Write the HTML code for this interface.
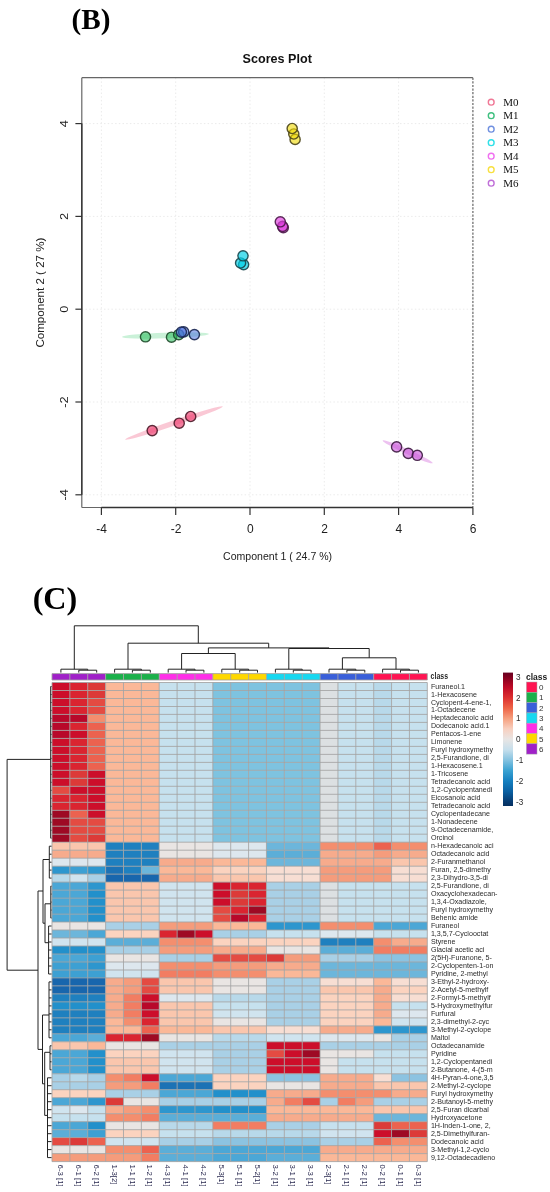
<!DOCTYPE html>
<html><head><meta charset="utf-8"><title>Scores Plot and Heatmap</title>
<style>html,body{margin:0;padding:0;background:#fff;} svg{display:block;}</style></head>
<body><svg width="550" height="1192" viewBox="0 0 550 1192">
<rect width="550" height="1192" fill="#fff"/>
<text x="90.9" y="28.6" font-family="Liberation Serif, serif" font-weight="bold" font-size="29.2" text-anchor="middle" fill="#000">(B)</text>
<text x="0" y="0" transform="translate(277.2 62.6) scale(1 1.07)" font-family="Liberation Sans, sans-serif" font-weight="bold" font-size="12.6" text-anchor="middle" fill="#111">Scores Plot</text>
<line x1="101.4" y1="77.7" x2="101.4" y2="507.5" stroke="#ebebeb" stroke-width="1" stroke-dasharray="1.5,2.2"/>
<line x1="175.7" y1="77.7" x2="175.7" y2="507.5" stroke="#ebebeb" stroke-width="1" stroke-dasharray="1.5,2.2"/>
<line x1="250.0" y1="77.7" x2="250.0" y2="507.5" stroke="#ebebeb" stroke-width="1" stroke-dasharray="1.5,2.2"/>
<line x1="324.3" y1="77.7" x2="324.3" y2="507.5" stroke="#ebebeb" stroke-width="1" stroke-dasharray="1.5,2.2"/>
<line x1="398.6" y1="77.7" x2="398.6" y2="507.5" stroke="#ebebeb" stroke-width="1" stroke-dasharray="1.5,2.2"/>
<line x1="472.9" y1="77.7" x2="472.9" y2="507.5" stroke="#ebebeb" stroke-width="1" stroke-dasharray="1.5,2.2"/>
<line x1="81.8" y1="494.8" x2="472.9" y2="494.8" stroke="#ebebeb" stroke-width="1" stroke-dasharray="1.5,2.2"/>
<line x1="81.8" y1="402.0" x2="472.9" y2="402.0" stroke="#ebebeb" stroke-width="1" stroke-dasharray="1.5,2.2"/>
<line x1="81.8" y1="309.2" x2="472.9" y2="309.2" stroke="#ebebeb" stroke-width="1" stroke-dasharray="1.5,2.2"/>
<line x1="81.8" y1="216.4" x2="472.9" y2="216.4" stroke="#ebebeb" stroke-width="1" stroke-dasharray="1.5,2.2"/>
<line x1="81.8" y1="123.6" x2="472.9" y2="123.6" stroke="#ebebeb" stroke-width="1" stroke-dasharray="1.5,2.2"/>
<ellipse cx="165.5" cy="335.5" rx="43.5" ry="2.8" transform="rotate(-2.0 165.5 335.5)" fill="#c4f0d4" fill-opacity="0.9"/>
<ellipse cx="174.0" cy="423.0" rx="51.5" ry="2.7" transform="rotate(-18.8 174.0 423.0)" fill="#f9c2d0" fill-opacity="0.9"/>
<ellipse cx="407.7" cy="451.8" rx="27.5" ry="2.4" transform="rotate(24.4 407.7 451.8)" fill="#ebbbee" fill-opacity="0.9"/>
<circle cx="295.1" cy="139.4" r="5.1" fill="#f0d800" fill-opacity="0.6" stroke="#4a4418" stroke-opacity="0.9" stroke-width="1.4"/>
<circle cx="293.8" cy="134.0" r="5.1" fill="#f0d800" fill-opacity="0.6" stroke="#4a4418" stroke-opacity="0.9" stroke-width="1.4"/>
<circle cx="292.2" cy="128.5" r="5.1" fill="#f0d800" fill-opacity="0.6" stroke="#4a4418" stroke-opacity="0.9" stroke-width="1.4"/>
<circle cx="283.3" cy="227.6" r="5.1" fill="#e040e0" fill-opacity="0.68" stroke="#4a1a48" stroke-opacity="0.9" stroke-width="1.4"/>
<circle cx="282.6" cy="226.4" r="5.1" fill="#e040e0" fill-opacity="0.68" stroke="#4a1a48" stroke-opacity="0.9" stroke-width="1.4"/>
<circle cx="280.3" cy="221.8" r="5.1" fill="#e040e0" fill-opacity="0.68" stroke="#4a1a48" stroke-opacity="0.9" stroke-width="1.4"/>
<circle cx="243.6" cy="264.6" r="5.1" fill="#00d0e8" fill-opacity="0.68" stroke="#17464c" stroke-opacity="0.9" stroke-width="1.4"/>
<circle cx="240.6" cy="263.0" r="5.1" fill="#00d0e8" fill-opacity="0.68" stroke="#17464c" stroke-opacity="0.9" stroke-width="1.4"/>
<circle cx="243.0" cy="255.8" r="5.1" fill="#00d0e8" fill-opacity="0.68" stroke="#17464c" stroke-opacity="0.9" stroke-width="1.4"/>
<circle cx="145.5" cy="336.8" r="5.1" fill="#30c060" fill-opacity="0.6" stroke="#1e4a2a" stroke-opacity="0.9" stroke-width="1.4"/>
<circle cx="171.5" cy="337.2" r="5.1" fill="#30c060" fill-opacity="0.6" stroke="#1e4a2a" stroke-opacity="0.9" stroke-width="1.4"/>
<circle cx="178.7" cy="334.7" r="5.1" fill="#30c060" fill-opacity="0.6" stroke="#1e4a2a" stroke-opacity="0.9" stroke-width="1.4"/>
<circle cx="194.4" cy="334.6" r="5.1" fill="#4870e0" fill-opacity="0.55" stroke="#1a2650" stroke-opacity="0.9" stroke-width="1.4"/>
<circle cx="183.7" cy="331.9" r="5.1" fill="#4870e0" fill-opacity="0.55" stroke="#1a2650" stroke-opacity="0.9" stroke-width="1.4"/>
<circle cx="181.4" cy="332.1" r="5.1" fill="#4870e0" fill-opacity="0.55" stroke="#1a2650" stroke-opacity="0.9" stroke-width="1.4"/>
<circle cx="152.2" cy="430.6" r="5.1" fill="#ee4070" fill-opacity="0.68" stroke="#4a1a28" stroke-opacity="0.9" stroke-width="1.4"/>
<circle cx="179.2" cy="423.2" r="5.1" fill="#ee4070" fill-opacity="0.68" stroke="#4a1a28" stroke-opacity="0.9" stroke-width="1.4"/>
<circle cx="190.7" cy="416.5" r="5.1" fill="#ee4070" fill-opacity="0.68" stroke="#4a1a28" stroke-opacity="0.9" stroke-width="1.4"/>
<circle cx="396.6" cy="446.9" r="5.1" fill="#c850d8" fill-opacity="0.6" stroke="#3c1a40" stroke-opacity="0.9" stroke-width="1.4"/>
<circle cx="408.3" cy="453.4" r="5.1" fill="#c850d8" fill-opacity="0.6" stroke="#3c1a40" stroke-opacity="0.9" stroke-width="1.4"/>
<circle cx="417.3" cy="455.3" r="5.1" fill="#c850d8" fill-opacity="0.6" stroke="#3c1a40" stroke-opacity="0.9" stroke-width="1.4"/>
<line x1="81.8" y1="77.7" x2="472.9" y2="77.7" stroke="#666" stroke-width="1.2"/>
<line x1="472.9" y1="77.7" x2="472.9" y2="507.5" stroke="#6a6a6a" stroke-width="1.2" stroke-dasharray="2.2,1.4"/>
<line x1="81.8" y1="77.7" x2="81.8" y2="507.5" stroke="#666" stroke-width="1.2"/>
<line x1="81.8" y1="507.5" x2="472.9" y2="507.5" stroke="#666" stroke-width="1.2"/>
<line x1="81.8" y1="123.6" x2="81.8" y2="494.8" stroke="#333" stroke-width="1.4"/>
<line x1="101.4" y1="507.5" x2="472.9" y2="507.5" stroke="#333" stroke-width="1.4"/>
<line x1="75.4" y1="494.8" x2="81.8" y2="494.8" stroke="#333" stroke-width="1.2"/>
<text x="0" y="0" transform="translate(68.1 494.8) scale(1 1.1) rotate(-90)" font-family="Liberation Sans, sans-serif" font-size="11.6" text-anchor="middle" fill="#1e1e1e">-4</text>
<line x1="75.4" y1="402.0" x2="81.8" y2="402.0" stroke="#333" stroke-width="1.2"/>
<text x="0" y="0" transform="translate(68.1 402.0) scale(1 1.1) rotate(-90)" font-family="Liberation Sans, sans-serif" font-size="11.6" text-anchor="middle" fill="#1e1e1e">-2</text>
<line x1="75.4" y1="309.2" x2="81.8" y2="309.2" stroke="#333" stroke-width="1.2"/>
<text x="0" y="0" transform="translate(68.1 309.2) scale(1 1.1) rotate(-90)" font-family="Liberation Sans, sans-serif" font-size="11.6" text-anchor="middle" fill="#1e1e1e">0</text>
<line x1="75.4" y1="216.4" x2="81.8" y2="216.4" stroke="#333" stroke-width="1.2"/>
<text x="0" y="0" transform="translate(68.1 216.4) scale(1 1.1) rotate(-90)" font-family="Liberation Sans, sans-serif" font-size="11.6" text-anchor="middle" fill="#1e1e1e">2</text>
<line x1="75.4" y1="123.6" x2="81.8" y2="123.6" stroke="#333" stroke-width="1.2"/>
<text x="0" y="0" transform="translate(68.1 123.6) scale(1 1.1) rotate(-90)" font-family="Liberation Sans, sans-serif" font-size="11.6" text-anchor="middle" fill="#1e1e1e">4</text>
<line x1="101.4" y1="507.5" x2="101.4" y2="514.9" stroke="#333" stroke-width="1.2"/>
<text x="0" y="0" transform="translate(101.7 532.8) scale(1 1.04)" font-family="Liberation Sans, sans-serif" font-size="12" text-anchor="middle" fill="#1e1e1e">-4</text>
<line x1="175.7" y1="507.5" x2="175.7" y2="514.9" stroke="#333" stroke-width="1.2"/>
<text x="0" y="0" transform="translate(176.0 532.8) scale(1 1.04)" font-family="Liberation Sans, sans-serif" font-size="12" text-anchor="middle" fill="#1e1e1e">-2</text>
<line x1="250.0" y1="507.5" x2="250.0" y2="514.9" stroke="#333" stroke-width="1.2"/>
<text x="0" y="0" transform="translate(250.3 532.8) scale(1 1.04)" font-family="Liberation Sans, sans-serif" font-size="12" text-anchor="middle" fill="#1e1e1e">0</text>
<line x1="324.3" y1="507.5" x2="324.3" y2="514.9" stroke="#333" stroke-width="1.2"/>
<text x="0" y="0" transform="translate(324.6 532.8) scale(1 1.04)" font-family="Liberation Sans, sans-serif" font-size="12" text-anchor="middle" fill="#1e1e1e">2</text>
<line x1="398.6" y1="507.5" x2="398.6" y2="514.9" stroke="#333" stroke-width="1.2"/>
<text x="0" y="0" transform="translate(398.9 532.8) scale(1 1.04)" font-family="Liberation Sans, sans-serif" font-size="12" text-anchor="middle" fill="#1e1e1e">4</text>
<line x1="472.9" y1="507.5" x2="472.9" y2="514.9" stroke="#333" stroke-width="1.2"/>
<text x="0" y="0" transform="translate(473.2 532.8) scale(1 1.04)" font-family="Liberation Sans, sans-serif" font-size="12" text-anchor="middle" fill="#1e1e1e">6</text>
<text x="277.6" y="560.3" font-family="Liberation Sans, sans-serif" font-size="11.3" text-anchor="middle" textLength="109" lengthAdjust="spacingAndGlyphs" fill="#222">Component 1 ( 24.7 %)</text>
<text x="0" y="0" transform="translate(44.3 292.6) rotate(-90)" font-family="Liberation Sans, sans-serif" font-size="11.3" text-anchor="middle" textLength="110" lengthAdjust="spacingAndGlyphs" fill="#222">Component 2 ( 27 %)</text>
<circle cx="491.2" cy="102.2" r="2.9" fill="none" stroke="#f07896" stroke-width="1.4"/>
<text x="503.2" y="105.9" font-family="Liberation Serif, serif" font-size="11" fill="#111">M0</text>
<circle cx="491.2" cy="115.7" r="2.9" fill="none" stroke="#40c080" stroke-width="1.4"/>
<text x="503.2" y="119.4" font-family="Liberation Serif, serif" font-size="11" fill="#111">M1</text>
<circle cx="491.2" cy="129.2" r="2.9" fill="none" stroke="#7090e0" stroke-width="1.4"/>
<text x="503.2" y="132.9" font-family="Liberation Serif, serif" font-size="11" fill="#111">M2</text>
<circle cx="491.2" cy="142.7" r="2.9" fill="none" stroke="#30e0e8" stroke-width="1.4"/>
<text x="503.2" y="146.4" font-family="Liberation Serif, serif" font-size="11" fill="#111">M3</text>
<circle cx="491.2" cy="156.2" r="2.9" fill="none" stroke="#f070f0" stroke-width="1.4"/>
<text x="503.2" y="159.9" font-family="Liberation Serif, serif" font-size="11" fill="#111">M4</text>
<circle cx="491.2" cy="169.7" r="2.9" fill="none" stroke="#f8e040" stroke-width="1.4"/>
<text x="503.2" y="173.4" font-family="Liberation Serif, serif" font-size="11" fill="#111">M5</text>
<circle cx="491.2" cy="183.2" r="2.9" fill="none" stroke="#c070d8" stroke-width="1.4"/>
<text x="503.2" y="186.9" font-family="Liberation Serif, serif" font-size="11" fill="#111">M6</text>
<text x="55" y="609.1" font-family="Liberation Serif, serif" font-weight="bold" font-size="32.2" text-anchor="middle" fill="#000">(C)</text>
<rect x="52.00" y="682.5" width="17.87" height="7.985" fill="#cc0e2a"/>
<rect x="69.87" y="682.5" width="17.87" height="7.985" fill="#da2430"/>
<rect x="87.74" y="682.5" width="17.87" height="7.985" fill="#dc3a38"/>
<rect x="105.61" y="682.5" width="17.87" height="7.985" fill="#fbb898"/>
<rect x="123.49" y="682.5" width="17.87" height="7.985" fill="#fbb898"/>
<rect x="141.36" y="682.5" width="17.87" height="7.985" fill="#fbb898"/>
<rect x="159.23" y="682.5" width="17.87" height="7.985" fill="#c6e1ee"/>
<rect x="177.10" y="682.5" width="17.87" height="7.985" fill="#c6e1ee"/>
<rect x="194.97" y="682.5" width="17.87" height="7.985" fill="#c6e1ee"/>
<rect x="212.84" y="682.5" width="17.87" height="7.985" fill="#7ec3e0"/>
<rect x="230.71" y="682.5" width="17.87" height="7.985" fill="#7ec3e0"/>
<rect x="248.59" y="682.5" width="17.87" height="7.985" fill="#7ec3e0"/>
<rect x="266.46" y="682.5" width="17.87" height="7.985" fill="#7ec3e0"/>
<rect x="284.33" y="682.5" width="17.87" height="7.985" fill="#7ec3e0"/>
<rect x="302.20" y="682.5" width="17.87" height="7.985" fill="#7ec3e0"/>
<rect x="320.07" y="682.5" width="17.87" height="7.985" fill="#dce0e2"/>
<rect x="337.94" y="682.5" width="17.87" height="7.985" fill="#c6e1ee"/>
<rect x="355.81" y="682.5" width="17.87" height="7.985" fill="#c6e1ee"/>
<rect x="373.69" y="682.5" width="17.87" height="7.985" fill="#b8d9ea"/>
<rect x="391.56" y="682.5" width="17.87" height="7.985" fill="#c6e1ee"/>
<rect x="409.43" y="682.5" width="17.87" height="7.985" fill="#c6e1ee"/>
<rect x="52.00" y="690.5" width="17.87" height="7.985" fill="#cc0e2a"/>
<rect x="69.87" y="690.5" width="17.87" height="7.985" fill="#da2430"/>
<rect x="87.74" y="690.5" width="17.87" height="7.985" fill="#dc3a38"/>
<rect x="105.61" y="690.5" width="17.87" height="7.985" fill="#fbb898"/>
<rect x="123.49" y="690.5" width="17.87" height="7.985" fill="#fbb898"/>
<rect x="141.36" y="690.5" width="17.87" height="7.985" fill="#fbb898"/>
<rect x="159.23" y="690.5" width="17.87" height="7.985" fill="#c6e1ee"/>
<rect x="177.10" y="690.5" width="17.87" height="7.985" fill="#c6e1ee"/>
<rect x="194.97" y="690.5" width="17.87" height="7.985" fill="#c6e1ee"/>
<rect x="212.84" y="690.5" width="17.87" height="7.985" fill="#7ec3e0"/>
<rect x="230.71" y="690.5" width="17.87" height="7.985" fill="#7ec3e0"/>
<rect x="248.59" y="690.5" width="17.87" height="7.985" fill="#7ec3e0"/>
<rect x="266.46" y="690.5" width="17.87" height="7.985" fill="#7ec3e0"/>
<rect x="284.33" y="690.5" width="17.87" height="7.985" fill="#7ec3e0"/>
<rect x="302.20" y="690.5" width="17.87" height="7.985" fill="#7ec3e0"/>
<rect x="320.07" y="690.5" width="17.87" height="7.985" fill="#dce0e2"/>
<rect x="337.94" y="690.5" width="17.87" height="7.985" fill="#c6e1ee"/>
<rect x="355.81" y="690.5" width="17.87" height="7.985" fill="#c6e1ee"/>
<rect x="373.69" y="690.5" width="17.87" height="7.985" fill="#b8d9ea"/>
<rect x="391.56" y="690.5" width="17.87" height="7.985" fill="#c6e1ee"/>
<rect x="409.43" y="690.5" width="17.87" height="7.985" fill="#c6e1ee"/>
<rect x="52.00" y="698.5" width="17.87" height="7.985" fill="#cc0e2a"/>
<rect x="69.87" y="698.5" width="17.87" height="7.985" fill="#da2430"/>
<rect x="87.74" y="698.5" width="17.87" height="7.985" fill="#e44b42"/>
<rect x="105.61" y="698.5" width="17.87" height="7.985" fill="#fbb898"/>
<rect x="123.49" y="698.5" width="17.87" height="7.985" fill="#fbb898"/>
<rect x="141.36" y="698.5" width="17.87" height="7.985" fill="#fbb898"/>
<rect x="159.23" y="698.5" width="17.87" height="7.985" fill="#c6e1ee"/>
<rect x="177.10" y="698.5" width="17.87" height="7.985" fill="#c6e1ee"/>
<rect x="194.97" y="698.5" width="17.87" height="7.985" fill="#c6e1ee"/>
<rect x="212.84" y="698.5" width="17.87" height="7.985" fill="#7ec3e0"/>
<rect x="230.71" y="698.5" width="17.87" height="7.985" fill="#7ec3e0"/>
<rect x="248.59" y="698.5" width="17.87" height="7.985" fill="#7ec3e0"/>
<rect x="266.46" y="698.5" width="17.87" height="7.985" fill="#7ec3e0"/>
<rect x="284.33" y="698.5" width="17.87" height="7.985" fill="#7ec3e0"/>
<rect x="302.20" y="698.5" width="17.87" height="7.985" fill="#7ec3e0"/>
<rect x="320.07" y="698.5" width="17.87" height="7.985" fill="#dce0e2"/>
<rect x="337.94" y="698.5" width="17.87" height="7.985" fill="#c6e1ee"/>
<rect x="355.81" y="698.5" width="17.87" height="7.985" fill="#c6e1ee"/>
<rect x="373.69" y="698.5" width="17.87" height="7.985" fill="#b8d9ea"/>
<rect x="391.56" y="698.5" width="17.87" height="7.985" fill="#c6e1ee"/>
<rect x="409.43" y="698.5" width="17.87" height="7.985" fill="#c6e1ee"/>
<rect x="52.00" y="706.5" width="17.87" height="7.985" fill="#cc0e2a"/>
<rect x="69.87" y="706.5" width="17.87" height="7.985" fill="#da2430"/>
<rect x="87.74" y="706.5" width="17.87" height="7.985" fill="#e44b42"/>
<rect x="105.61" y="706.5" width="17.87" height="7.985" fill="#fbb898"/>
<rect x="123.49" y="706.5" width="17.87" height="7.985" fill="#fbb898"/>
<rect x="141.36" y="706.5" width="17.87" height="7.985" fill="#fbb898"/>
<rect x="159.23" y="706.5" width="17.87" height="7.985" fill="#c6e1ee"/>
<rect x="177.10" y="706.5" width="17.87" height="7.985" fill="#c6e1ee"/>
<rect x="194.97" y="706.5" width="17.87" height="7.985" fill="#c6e1ee"/>
<rect x="212.84" y="706.5" width="17.87" height="7.985" fill="#7ec3e0"/>
<rect x="230.71" y="706.5" width="17.87" height="7.985" fill="#7ec3e0"/>
<rect x="248.59" y="706.5" width="17.87" height="7.985" fill="#7ec3e0"/>
<rect x="266.46" y="706.5" width="17.87" height="7.985" fill="#7ec3e0"/>
<rect x="284.33" y="706.5" width="17.87" height="7.985" fill="#7ec3e0"/>
<rect x="302.20" y="706.5" width="17.87" height="7.985" fill="#7ec3e0"/>
<rect x="320.07" y="706.5" width="17.87" height="7.985" fill="#dce0e2"/>
<rect x="337.94" y="706.5" width="17.87" height="7.985" fill="#c6e1ee"/>
<rect x="355.81" y="706.5" width="17.87" height="7.985" fill="#c6e1ee"/>
<rect x="373.69" y="706.5" width="17.87" height="7.985" fill="#b8d9ea"/>
<rect x="391.56" y="706.5" width="17.87" height="7.985" fill="#c6e1ee"/>
<rect x="409.43" y="706.5" width="17.87" height="7.985" fill="#c6e1ee"/>
<rect x="52.00" y="714.4" width="17.87" height="7.985" fill="#b8082a"/>
<rect x="69.87" y="714.4" width="17.87" height="7.985" fill="#b8082a"/>
<rect x="87.74" y="714.4" width="17.87" height="7.985" fill="#f48e6e"/>
<rect x="105.61" y="714.4" width="17.87" height="7.985" fill="#fbb898"/>
<rect x="123.49" y="714.4" width="17.87" height="7.985" fill="#fbb898"/>
<rect x="141.36" y="714.4" width="17.87" height="7.985" fill="#fbb898"/>
<rect x="159.23" y="714.4" width="17.87" height="7.985" fill="#c6e1ee"/>
<rect x="177.10" y="714.4" width="17.87" height="7.985" fill="#c6e1ee"/>
<rect x="194.97" y="714.4" width="17.87" height="7.985" fill="#c6e1ee"/>
<rect x="212.84" y="714.4" width="17.87" height="7.985" fill="#7ec3e0"/>
<rect x="230.71" y="714.4" width="17.87" height="7.985" fill="#7ec3e0"/>
<rect x="248.59" y="714.4" width="17.87" height="7.985" fill="#7ec3e0"/>
<rect x="266.46" y="714.4" width="17.87" height="7.985" fill="#7ec3e0"/>
<rect x="284.33" y="714.4" width="17.87" height="7.985" fill="#7ec3e0"/>
<rect x="302.20" y="714.4" width="17.87" height="7.985" fill="#7ec3e0"/>
<rect x="320.07" y="714.4" width="17.87" height="7.985" fill="#dce0e2"/>
<rect x="337.94" y="714.4" width="17.87" height="7.985" fill="#c6e1ee"/>
<rect x="355.81" y="714.4" width="17.87" height="7.985" fill="#c6e1ee"/>
<rect x="373.69" y="714.4" width="17.87" height="7.985" fill="#b8d9ea"/>
<rect x="391.56" y="714.4" width="17.87" height="7.985" fill="#c6e1ee"/>
<rect x="409.43" y="714.4" width="17.87" height="7.985" fill="#c6e1ee"/>
<rect x="52.00" y="722.4" width="17.87" height="7.985" fill="#b8082a"/>
<rect x="69.87" y="722.4" width="17.87" height="7.985" fill="#da2430"/>
<rect x="87.74" y="722.4" width="17.87" height="7.985" fill="#ec624f"/>
<rect x="105.61" y="722.4" width="17.87" height="7.985" fill="#fbb898"/>
<rect x="123.49" y="722.4" width="17.87" height="7.985" fill="#fbb898"/>
<rect x="141.36" y="722.4" width="17.87" height="7.985" fill="#fbb898"/>
<rect x="159.23" y="722.4" width="17.87" height="7.985" fill="#c6e1ee"/>
<rect x="177.10" y="722.4" width="17.87" height="7.985" fill="#c6e1ee"/>
<rect x="194.97" y="722.4" width="17.87" height="7.985" fill="#c6e1ee"/>
<rect x="212.84" y="722.4" width="17.87" height="7.985" fill="#7ec3e0"/>
<rect x="230.71" y="722.4" width="17.87" height="7.985" fill="#7ec3e0"/>
<rect x="248.59" y="722.4" width="17.87" height="7.985" fill="#7ec3e0"/>
<rect x="266.46" y="722.4" width="17.87" height="7.985" fill="#7ec3e0"/>
<rect x="284.33" y="722.4" width="17.87" height="7.985" fill="#7ec3e0"/>
<rect x="302.20" y="722.4" width="17.87" height="7.985" fill="#7ec3e0"/>
<rect x="320.07" y="722.4" width="17.87" height="7.985" fill="#dce0e2"/>
<rect x="337.94" y="722.4" width="17.87" height="7.985" fill="#c6e1ee"/>
<rect x="355.81" y="722.4" width="17.87" height="7.985" fill="#c6e1ee"/>
<rect x="373.69" y="722.4" width="17.87" height="7.985" fill="#b8d9ea"/>
<rect x="391.56" y="722.4" width="17.87" height="7.985" fill="#c6e1ee"/>
<rect x="409.43" y="722.4" width="17.87" height="7.985" fill="#c6e1ee"/>
<rect x="52.00" y="730.4" width="17.87" height="7.985" fill="#b8082a"/>
<rect x="69.87" y="730.4" width="17.87" height="7.985" fill="#cc0e2a"/>
<rect x="87.74" y="730.4" width="17.87" height="7.985" fill="#ec624f"/>
<rect x="105.61" y="730.4" width="17.87" height="7.985" fill="#fbb898"/>
<rect x="123.49" y="730.4" width="17.87" height="7.985" fill="#fbb898"/>
<rect x="141.36" y="730.4" width="17.87" height="7.985" fill="#fbb898"/>
<rect x="159.23" y="730.4" width="17.87" height="7.985" fill="#c6e1ee"/>
<rect x="177.10" y="730.4" width="17.87" height="7.985" fill="#c6e1ee"/>
<rect x="194.97" y="730.4" width="17.87" height="7.985" fill="#c6e1ee"/>
<rect x="212.84" y="730.4" width="17.87" height="7.985" fill="#7ec3e0"/>
<rect x="230.71" y="730.4" width="17.87" height="7.985" fill="#7ec3e0"/>
<rect x="248.59" y="730.4" width="17.87" height="7.985" fill="#7ec3e0"/>
<rect x="266.46" y="730.4" width="17.87" height="7.985" fill="#7ec3e0"/>
<rect x="284.33" y="730.4" width="17.87" height="7.985" fill="#7ec3e0"/>
<rect x="302.20" y="730.4" width="17.87" height="7.985" fill="#7ec3e0"/>
<rect x="320.07" y="730.4" width="17.87" height="7.985" fill="#dce0e2"/>
<rect x="337.94" y="730.4" width="17.87" height="7.985" fill="#c6e1ee"/>
<rect x="355.81" y="730.4" width="17.87" height="7.985" fill="#c6e1ee"/>
<rect x="373.69" y="730.4" width="17.87" height="7.985" fill="#b8d9ea"/>
<rect x="391.56" y="730.4" width="17.87" height="7.985" fill="#c6e1ee"/>
<rect x="409.43" y="730.4" width="17.87" height="7.985" fill="#c6e1ee"/>
<rect x="52.00" y="738.4" width="17.87" height="7.985" fill="#cc0e2a"/>
<rect x="69.87" y="738.4" width="17.87" height="7.985" fill="#da2430"/>
<rect x="87.74" y="738.4" width="17.87" height="7.985" fill="#ec624f"/>
<rect x="105.61" y="738.4" width="17.87" height="7.985" fill="#fbb898"/>
<rect x="123.49" y="738.4" width="17.87" height="7.985" fill="#fbb898"/>
<rect x="141.36" y="738.4" width="17.87" height="7.985" fill="#fbb898"/>
<rect x="159.23" y="738.4" width="17.87" height="7.985" fill="#c6e1ee"/>
<rect x="177.10" y="738.4" width="17.87" height="7.985" fill="#c6e1ee"/>
<rect x="194.97" y="738.4" width="17.87" height="7.985" fill="#c6e1ee"/>
<rect x="212.84" y="738.4" width="17.87" height="7.985" fill="#7ec3e0"/>
<rect x="230.71" y="738.4" width="17.87" height="7.985" fill="#7ec3e0"/>
<rect x="248.59" y="738.4" width="17.87" height="7.985" fill="#7ec3e0"/>
<rect x="266.46" y="738.4" width="17.87" height="7.985" fill="#7ec3e0"/>
<rect x="284.33" y="738.4" width="17.87" height="7.985" fill="#7ec3e0"/>
<rect x="302.20" y="738.4" width="17.87" height="7.985" fill="#7ec3e0"/>
<rect x="320.07" y="738.4" width="17.87" height="7.985" fill="#dce0e2"/>
<rect x="337.94" y="738.4" width="17.87" height="7.985" fill="#c6e1ee"/>
<rect x="355.81" y="738.4" width="17.87" height="7.985" fill="#c6e1ee"/>
<rect x="373.69" y="738.4" width="17.87" height="7.985" fill="#b8d9ea"/>
<rect x="391.56" y="738.4" width="17.87" height="7.985" fill="#c6e1ee"/>
<rect x="409.43" y="738.4" width="17.87" height="7.985" fill="#c6e1ee"/>
<rect x="52.00" y="746.4" width="17.87" height="7.985" fill="#cc0e2a"/>
<rect x="69.87" y="746.4" width="17.87" height="7.985" fill="#da2430"/>
<rect x="87.74" y="746.4" width="17.87" height="7.985" fill="#ec624f"/>
<rect x="105.61" y="746.4" width="17.87" height="7.985" fill="#fbb898"/>
<rect x="123.49" y="746.4" width="17.87" height="7.985" fill="#fbb898"/>
<rect x="141.36" y="746.4" width="17.87" height="7.985" fill="#fbb898"/>
<rect x="159.23" y="746.4" width="17.87" height="7.985" fill="#c6e1ee"/>
<rect x="177.10" y="746.4" width="17.87" height="7.985" fill="#c6e1ee"/>
<rect x="194.97" y="746.4" width="17.87" height="7.985" fill="#c6e1ee"/>
<rect x="212.84" y="746.4" width="17.87" height="7.985" fill="#7ec3e0"/>
<rect x="230.71" y="746.4" width="17.87" height="7.985" fill="#7ec3e0"/>
<rect x="248.59" y="746.4" width="17.87" height="7.985" fill="#7ec3e0"/>
<rect x="266.46" y="746.4" width="17.87" height="7.985" fill="#7ec3e0"/>
<rect x="284.33" y="746.4" width="17.87" height="7.985" fill="#7ec3e0"/>
<rect x="302.20" y="746.4" width="17.87" height="7.985" fill="#7ec3e0"/>
<rect x="320.07" y="746.4" width="17.87" height="7.985" fill="#dce0e2"/>
<rect x="337.94" y="746.4" width="17.87" height="7.985" fill="#c6e1ee"/>
<rect x="355.81" y="746.4" width="17.87" height="7.985" fill="#c6e1ee"/>
<rect x="373.69" y="746.4" width="17.87" height="7.985" fill="#b8d9ea"/>
<rect x="391.56" y="746.4" width="17.87" height="7.985" fill="#c6e1ee"/>
<rect x="409.43" y="746.4" width="17.87" height="7.985" fill="#c6e1ee"/>
<rect x="52.00" y="754.4" width="17.87" height="7.985" fill="#cc0e2a"/>
<rect x="69.87" y="754.4" width="17.87" height="7.985" fill="#da2430"/>
<rect x="87.74" y="754.4" width="17.87" height="7.985" fill="#ec624f"/>
<rect x="105.61" y="754.4" width="17.87" height="7.985" fill="#fbb898"/>
<rect x="123.49" y="754.4" width="17.87" height="7.985" fill="#fbb898"/>
<rect x="141.36" y="754.4" width="17.87" height="7.985" fill="#fbb898"/>
<rect x="159.23" y="754.4" width="17.87" height="7.985" fill="#c6e1ee"/>
<rect x="177.10" y="754.4" width="17.87" height="7.985" fill="#c6e1ee"/>
<rect x="194.97" y="754.4" width="17.87" height="7.985" fill="#c6e1ee"/>
<rect x="212.84" y="754.4" width="17.87" height="7.985" fill="#7ec3e0"/>
<rect x="230.71" y="754.4" width="17.87" height="7.985" fill="#7ec3e0"/>
<rect x="248.59" y="754.4" width="17.87" height="7.985" fill="#7ec3e0"/>
<rect x="266.46" y="754.4" width="17.87" height="7.985" fill="#7ec3e0"/>
<rect x="284.33" y="754.4" width="17.87" height="7.985" fill="#7ec3e0"/>
<rect x="302.20" y="754.4" width="17.87" height="7.985" fill="#7ec3e0"/>
<rect x="320.07" y="754.4" width="17.87" height="7.985" fill="#dce0e2"/>
<rect x="337.94" y="754.4" width="17.87" height="7.985" fill="#c6e1ee"/>
<rect x="355.81" y="754.4" width="17.87" height="7.985" fill="#c6e1ee"/>
<rect x="373.69" y="754.4" width="17.87" height="7.985" fill="#b8d9ea"/>
<rect x="391.56" y="754.4" width="17.87" height="7.985" fill="#c6e1ee"/>
<rect x="409.43" y="754.4" width="17.87" height="7.985" fill="#c6e1ee"/>
<rect x="52.00" y="762.4" width="17.87" height="7.985" fill="#cc0e2a"/>
<rect x="69.87" y="762.4" width="17.87" height="7.985" fill="#da2430"/>
<rect x="87.74" y="762.4" width="17.87" height="7.985" fill="#ec624f"/>
<rect x="105.61" y="762.4" width="17.87" height="7.985" fill="#fbb898"/>
<rect x="123.49" y="762.4" width="17.87" height="7.985" fill="#fbb898"/>
<rect x="141.36" y="762.4" width="17.87" height="7.985" fill="#fbb898"/>
<rect x="159.23" y="762.4" width="17.87" height="7.985" fill="#c6e1ee"/>
<rect x="177.10" y="762.4" width="17.87" height="7.985" fill="#c6e1ee"/>
<rect x="194.97" y="762.4" width="17.87" height="7.985" fill="#c6e1ee"/>
<rect x="212.84" y="762.4" width="17.87" height="7.985" fill="#7ec3e0"/>
<rect x="230.71" y="762.4" width="17.87" height="7.985" fill="#7ec3e0"/>
<rect x="248.59" y="762.4" width="17.87" height="7.985" fill="#7ec3e0"/>
<rect x="266.46" y="762.4" width="17.87" height="7.985" fill="#7ec3e0"/>
<rect x="284.33" y="762.4" width="17.87" height="7.985" fill="#7ec3e0"/>
<rect x="302.20" y="762.4" width="17.87" height="7.985" fill="#7ec3e0"/>
<rect x="320.07" y="762.4" width="17.87" height="7.985" fill="#dce0e2"/>
<rect x="337.94" y="762.4" width="17.87" height="7.985" fill="#c6e1ee"/>
<rect x="355.81" y="762.4" width="17.87" height="7.985" fill="#c6e1ee"/>
<rect x="373.69" y="762.4" width="17.87" height="7.985" fill="#b8d9ea"/>
<rect x="391.56" y="762.4" width="17.87" height="7.985" fill="#c6e1ee"/>
<rect x="409.43" y="762.4" width="17.87" height="7.985" fill="#c6e1ee"/>
<rect x="52.00" y="770.3" width="17.87" height="7.985" fill="#cc0e2a"/>
<rect x="69.87" y="770.3" width="17.87" height="7.985" fill="#dc3a38"/>
<rect x="87.74" y="770.3" width="17.87" height="7.985" fill="#cc0e2a"/>
<rect x="105.61" y="770.3" width="17.87" height="7.985" fill="#fbb898"/>
<rect x="123.49" y="770.3" width="17.87" height="7.985" fill="#fbb898"/>
<rect x="141.36" y="770.3" width="17.87" height="7.985" fill="#fbb898"/>
<rect x="159.23" y="770.3" width="17.87" height="7.985" fill="#c6e1ee"/>
<rect x="177.10" y="770.3" width="17.87" height="7.985" fill="#c6e1ee"/>
<rect x="194.97" y="770.3" width="17.87" height="7.985" fill="#c6e1ee"/>
<rect x="212.84" y="770.3" width="17.87" height="7.985" fill="#7ec3e0"/>
<rect x="230.71" y="770.3" width="17.87" height="7.985" fill="#7ec3e0"/>
<rect x="248.59" y="770.3" width="17.87" height="7.985" fill="#7ec3e0"/>
<rect x="266.46" y="770.3" width="17.87" height="7.985" fill="#7ec3e0"/>
<rect x="284.33" y="770.3" width="17.87" height="7.985" fill="#7ec3e0"/>
<rect x="302.20" y="770.3" width="17.87" height="7.985" fill="#7ec3e0"/>
<rect x="320.07" y="770.3" width="17.87" height="7.985" fill="#dce0e2"/>
<rect x="337.94" y="770.3" width="17.87" height="7.985" fill="#c6e1ee"/>
<rect x="355.81" y="770.3" width="17.87" height="7.985" fill="#c6e1ee"/>
<rect x="373.69" y="770.3" width="17.87" height="7.985" fill="#b8d9ea"/>
<rect x="391.56" y="770.3" width="17.87" height="7.985" fill="#c6e1ee"/>
<rect x="409.43" y="770.3" width="17.87" height="7.985" fill="#c6e1ee"/>
<rect x="52.00" y="778.3" width="17.87" height="7.985" fill="#cc0e2a"/>
<rect x="69.87" y="778.3" width="17.87" height="7.985" fill="#dc3a38"/>
<rect x="87.74" y="778.3" width="17.87" height="7.985" fill="#cc0e2a"/>
<rect x="105.61" y="778.3" width="17.87" height="7.985" fill="#fbb898"/>
<rect x="123.49" y="778.3" width="17.87" height="7.985" fill="#fbb898"/>
<rect x="141.36" y="778.3" width="17.87" height="7.985" fill="#fbb898"/>
<rect x="159.23" y="778.3" width="17.87" height="7.985" fill="#c6e1ee"/>
<rect x="177.10" y="778.3" width="17.87" height="7.985" fill="#c6e1ee"/>
<rect x="194.97" y="778.3" width="17.87" height="7.985" fill="#c6e1ee"/>
<rect x="212.84" y="778.3" width="17.87" height="7.985" fill="#7ec3e0"/>
<rect x="230.71" y="778.3" width="17.87" height="7.985" fill="#7ec3e0"/>
<rect x="248.59" y="778.3" width="17.87" height="7.985" fill="#7ec3e0"/>
<rect x="266.46" y="778.3" width="17.87" height="7.985" fill="#7ec3e0"/>
<rect x="284.33" y="778.3" width="17.87" height="7.985" fill="#7ec3e0"/>
<rect x="302.20" y="778.3" width="17.87" height="7.985" fill="#7ec3e0"/>
<rect x="320.07" y="778.3" width="17.87" height="7.985" fill="#dce0e2"/>
<rect x="337.94" y="778.3" width="17.87" height="7.985" fill="#c6e1ee"/>
<rect x="355.81" y="778.3" width="17.87" height="7.985" fill="#c6e1ee"/>
<rect x="373.69" y="778.3" width="17.87" height="7.985" fill="#b8d9ea"/>
<rect x="391.56" y="778.3" width="17.87" height="7.985" fill="#c6e1ee"/>
<rect x="409.43" y="778.3" width="17.87" height="7.985" fill="#c6e1ee"/>
<rect x="52.00" y="786.3" width="17.87" height="7.985" fill="#e44b42"/>
<rect x="69.87" y="786.3" width="17.87" height="7.985" fill="#cc0e2a"/>
<rect x="87.74" y="786.3" width="17.87" height="7.985" fill="#cc0e2a"/>
<rect x="105.61" y="786.3" width="17.87" height="7.985" fill="#fbb898"/>
<rect x="123.49" y="786.3" width="17.87" height="7.985" fill="#fbb898"/>
<rect x="141.36" y="786.3" width="17.87" height="7.985" fill="#fbb898"/>
<rect x="159.23" y="786.3" width="17.87" height="7.985" fill="#c6e1ee"/>
<rect x="177.10" y="786.3" width="17.87" height="7.985" fill="#c6e1ee"/>
<rect x="194.97" y="786.3" width="17.87" height="7.985" fill="#c6e1ee"/>
<rect x="212.84" y="786.3" width="17.87" height="7.985" fill="#7ec3e0"/>
<rect x="230.71" y="786.3" width="17.87" height="7.985" fill="#7ec3e0"/>
<rect x="248.59" y="786.3" width="17.87" height="7.985" fill="#7ec3e0"/>
<rect x="266.46" y="786.3" width="17.87" height="7.985" fill="#7ec3e0"/>
<rect x="284.33" y="786.3" width="17.87" height="7.985" fill="#7ec3e0"/>
<rect x="302.20" y="786.3" width="17.87" height="7.985" fill="#7ec3e0"/>
<rect x="320.07" y="786.3" width="17.87" height="7.985" fill="#dce0e2"/>
<rect x="337.94" y="786.3" width="17.87" height="7.985" fill="#c6e1ee"/>
<rect x="355.81" y="786.3" width="17.87" height="7.985" fill="#c6e1ee"/>
<rect x="373.69" y="786.3" width="17.87" height="7.985" fill="#b8d9ea"/>
<rect x="391.56" y="786.3" width="17.87" height="7.985" fill="#c6e1ee"/>
<rect x="409.43" y="786.3" width="17.87" height="7.985" fill="#c6e1ee"/>
<rect x="52.00" y="794.3" width="17.87" height="7.985" fill="#da2430"/>
<rect x="69.87" y="794.3" width="17.87" height="7.985" fill="#da2430"/>
<rect x="87.74" y="794.3" width="17.87" height="7.985" fill="#cc0e2a"/>
<rect x="105.61" y="794.3" width="17.87" height="7.985" fill="#fbb898"/>
<rect x="123.49" y="794.3" width="17.87" height="7.985" fill="#fbb898"/>
<rect x="141.36" y="794.3" width="17.87" height="7.985" fill="#fbb898"/>
<rect x="159.23" y="794.3" width="17.87" height="7.985" fill="#c6e1ee"/>
<rect x="177.10" y="794.3" width="17.87" height="7.985" fill="#c6e1ee"/>
<rect x="194.97" y="794.3" width="17.87" height="7.985" fill="#c6e1ee"/>
<rect x="212.84" y="794.3" width="17.87" height="7.985" fill="#7ec3e0"/>
<rect x="230.71" y="794.3" width="17.87" height="7.985" fill="#7ec3e0"/>
<rect x="248.59" y="794.3" width="17.87" height="7.985" fill="#7ec3e0"/>
<rect x="266.46" y="794.3" width="17.87" height="7.985" fill="#7ec3e0"/>
<rect x="284.33" y="794.3" width="17.87" height="7.985" fill="#7ec3e0"/>
<rect x="302.20" y="794.3" width="17.87" height="7.985" fill="#7ec3e0"/>
<rect x="320.07" y="794.3" width="17.87" height="7.985" fill="#dce0e2"/>
<rect x="337.94" y="794.3" width="17.87" height="7.985" fill="#c6e1ee"/>
<rect x="355.81" y="794.3" width="17.87" height="7.985" fill="#c6e1ee"/>
<rect x="373.69" y="794.3" width="17.87" height="7.985" fill="#b8d9ea"/>
<rect x="391.56" y="794.3" width="17.87" height="7.985" fill="#c6e1ee"/>
<rect x="409.43" y="794.3" width="17.87" height="7.985" fill="#c6e1ee"/>
<rect x="52.00" y="802.3" width="17.87" height="7.985" fill="#da2430"/>
<rect x="69.87" y="802.3" width="17.87" height="7.985" fill="#da2430"/>
<rect x="87.74" y="802.3" width="17.87" height="7.985" fill="#cc0e2a"/>
<rect x="105.61" y="802.3" width="17.87" height="7.985" fill="#fbb898"/>
<rect x="123.49" y="802.3" width="17.87" height="7.985" fill="#fbb898"/>
<rect x="141.36" y="802.3" width="17.87" height="7.985" fill="#fbb898"/>
<rect x="159.23" y="802.3" width="17.87" height="7.985" fill="#c6e1ee"/>
<rect x="177.10" y="802.3" width="17.87" height="7.985" fill="#c6e1ee"/>
<rect x="194.97" y="802.3" width="17.87" height="7.985" fill="#c6e1ee"/>
<rect x="212.84" y="802.3" width="17.87" height="7.985" fill="#7ec3e0"/>
<rect x="230.71" y="802.3" width="17.87" height="7.985" fill="#7ec3e0"/>
<rect x="248.59" y="802.3" width="17.87" height="7.985" fill="#7ec3e0"/>
<rect x="266.46" y="802.3" width="17.87" height="7.985" fill="#7ec3e0"/>
<rect x="284.33" y="802.3" width="17.87" height="7.985" fill="#7ec3e0"/>
<rect x="302.20" y="802.3" width="17.87" height="7.985" fill="#7ec3e0"/>
<rect x="320.07" y="802.3" width="17.87" height="7.985" fill="#dce0e2"/>
<rect x="337.94" y="802.3" width="17.87" height="7.985" fill="#c6e1ee"/>
<rect x="355.81" y="802.3" width="17.87" height="7.985" fill="#c6e1ee"/>
<rect x="373.69" y="802.3" width="17.87" height="7.985" fill="#b8d9ea"/>
<rect x="391.56" y="802.3" width="17.87" height="7.985" fill="#c6e1ee"/>
<rect x="409.43" y="802.3" width="17.87" height="7.985" fill="#c6e1ee"/>
<rect x="52.00" y="810.3" width="17.87" height="7.985" fill="#9e0a24"/>
<rect x="69.87" y="810.3" width="17.87" height="7.985" fill="#ec624f"/>
<rect x="87.74" y="810.3" width="17.87" height="7.985" fill="#cc0e2a"/>
<rect x="105.61" y="810.3" width="17.87" height="7.985" fill="#fbb898"/>
<rect x="123.49" y="810.3" width="17.87" height="7.985" fill="#fbb898"/>
<rect x="141.36" y="810.3" width="17.87" height="7.985" fill="#fbb898"/>
<rect x="159.23" y="810.3" width="17.87" height="7.985" fill="#c6e1ee"/>
<rect x="177.10" y="810.3" width="17.87" height="7.985" fill="#c6e1ee"/>
<rect x="194.97" y="810.3" width="17.87" height="7.985" fill="#c6e1ee"/>
<rect x="212.84" y="810.3" width="17.87" height="7.985" fill="#7ec3e0"/>
<rect x="230.71" y="810.3" width="17.87" height="7.985" fill="#7ec3e0"/>
<rect x="248.59" y="810.3" width="17.87" height="7.985" fill="#7ec3e0"/>
<rect x="266.46" y="810.3" width="17.87" height="7.985" fill="#7ec3e0"/>
<rect x="284.33" y="810.3" width="17.87" height="7.985" fill="#7ec3e0"/>
<rect x="302.20" y="810.3" width="17.87" height="7.985" fill="#7ec3e0"/>
<rect x="320.07" y="810.3" width="17.87" height="7.985" fill="#dce0e2"/>
<rect x="337.94" y="810.3" width="17.87" height="7.985" fill="#c6e1ee"/>
<rect x="355.81" y="810.3" width="17.87" height="7.985" fill="#c6e1ee"/>
<rect x="373.69" y="810.3" width="17.87" height="7.985" fill="#b8d9ea"/>
<rect x="391.56" y="810.3" width="17.87" height="7.985" fill="#c6e1ee"/>
<rect x="409.43" y="810.3" width="17.87" height="7.985" fill="#c6e1ee"/>
<rect x="52.00" y="818.2" width="17.87" height="7.985" fill="#9e0a24"/>
<rect x="69.87" y="818.2" width="17.87" height="7.985" fill="#e44b42"/>
<rect x="87.74" y="818.2" width="17.87" height="7.985" fill="#e44b42"/>
<rect x="105.61" y="818.2" width="17.87" height="7.985" fill="#fbb898"/>
<rect x="123.49" y="818.2" width="17.87" height="7.985" fill="#fbb898"/>
<rect x="141.36" y="818.2" width="17.87" height="7.985" fill="#fbb898"/>
<rect x="159.23" y="818.2" width="17.87" height="7.985" fill="#c6e1ee"/>
<rect x="177.10" y="818.2" width="17.87" height="7.985" fill="#c6e1ee"/>
<rect x="194.97" y="818.2" width="17.87" height="7.985" fill="#c6e1ee"/>
<rect x="212.84" y="818.2" width="17.87" height="7.985" fill="#7ec3e0"/>
<rect x="230.71" y="818.2" width="17.87" height="7.985" fill="#7ec3e0"/>
<rect x="248.59" y="818.2" width="17.87" height="7.985" fill="#7ec3e0"/>
<rect x="266.46" y="818.2" width="17.87" height="7.985" fill="#7ec3e0"/>
<rect x="284.33" y="818.2" width="17.87" height="7.985" fill="#7ec3e0"/>
<rect x="302.20" y="818.2" width="17.87" height="7.985" fill="#7ec3e0"/>
<rect x="320.07" y="818.2" width="17.87" height="7.985" fill="#dce0e2"/>
<rect x="337.94" y="818.2" width="17.87" height="7.985" fill="#c6e1ee"/>
<rect x="355.81" y="818.2" width="17.87" height="7.985" fill="#c6e1ee"/>
<rect x="373.69" y="818.2" width="17.87" height="7.985" fill="#b8d9ea"/>
<rect x="391.56" y="818.2" width="17.87" height="7.985" fill="#c6e1ee"/>
<rect x="409.43" y="818.2" width="17.87" height="7.985" fill="#c6e1ee"/>
<rect x="52.00" y="826.2" width="17.87" height="7.985" fill="#9e0a24"/>
<rect x="69.87" y="826.2" width="17.87" height="7.985" fill="#e44b42"/>
<rect x="87.74" y="826.2" width="17.87" height="7.985" fill="#e44b42"/>
<rect x="105.61" y="826.2" width="17.87" height="7.985" fill="#fbb898"/>
<rect x="123.49" y="826.2" width="17.87" height="7.985" fill="#fbb898"/>
<rect x="141.36" y="826.2" width="17.87" height="7.985" fill="#fbb898"/>
<rect x="159.23" y="826.2" width="17.87" height="7.985" fill="#c6e1ee"/>
<rect x="177.10" y="826.2" width="17.87" height="7.985" fill="#c6e1ee"/>
<rect x="194.97" y="826.2" width="17.87" height="7.985" fill="#c6e1ee"/>
<rect x="212.84" y="826.2" width="17.87" height="7.985" fill="#7ec3e0"/>
<rect x="230.71" y="826.2" width="17.87" height="7.985" fill="#7ec3e0"/>
<rect x="248.59" y="826.2" width="17.87" height="7.985" fill="#7ec3e0"/>
<rect x="266.46" y="826.2" width="17.87" height="7.985" fill="#7ec3e0"/>
<rect x="284.33" y="826.2" width="17.87" height="7.985" fill="#7ec3e0"/>
<rect x="302.20" y="826.2" width="17.87" height="7.985" fill="#7ec3e0"/>
<rect x="320.07" y="826.2" width="17.87" height="7.985" fill="#dce0e2"/>
<rect x="337.94" y="826.2" width="17.87" height="7.985" fill="#c6e1ee"/>
<rect x="355.81" y="826.2" width="17.87" height="7.985" fill="#c6e1ee"/>
<rect x="373.69" y="826.2" width="17.87" height="7.985" fill="#b8d9ea"/>
<rect x="391.56" y="826.2" width="17.87" height="7.985" fill="#c6e1ee"/>
<rect x="409.43" y="826.2" width="17.87" height="7.985" fill="#c6e1ee"/>
<rect x="52.00" y="834.2" width="17.87" height="7.985" fill="#9e0a24"/>
<rect x="69.87" y="834.2" width="17.87" height="7.985" fill="#e44b42"/>
<rect x="87.74" y="834.2" width="17.87" height="7.985" fill="#dc3a38"/>
<rect x="105.61" y="834.2" width="17.87" height="7.985" fill="#fbb898"/>
<rect x="123.49" y="834.2" width="17.87" height="7.985" fill="#fbb898"/>
<rect x="141.36" y="834.2" width="17.87" height="7.985" fill="#fbb898"/>
<rect x="159.23" y="834.2" width="17.87" height="7.985" fill="#c6e1ee"/>
<rect x="177.10" y="834.2" width="17.87" height="7.985" fill="#c6e1ee"/>
<rect x="194.97" y="834.2" width="17.87" height="7.985" fill="#c6e1ee"/>
<rect x="212.84" y="834.2" width="17.87" height="7.985" fill="#7ec3e0"/>
<rect x="230.71" y="834.2" width="17.87" height="7.985" fill="#7ec3e0"/>
<rect x="248.59" y="834.2" width="17.87" height="7.985" fill="#7ec3e0"/>
<rect x="266.46" y="834.2" width="17.87" height="7.985" fill="#7ec3e0"/>
<rect x="284.33" y="834.2" width="17.87" height="7.985" fill="#7ec3e0"/>
<rect x="302.20" y="834.2" width="17.87" height="7.985" fill="#7ec3e0"/>
<rect x="320.07" y="834.2" width="17.87" height="7.985" fill="#dce0e2"/>
<rect x="337.94" y="834.2" width="17.87" height="7.985" fill="#c6e1ee"/>
<rect x="355.81" y="834.2" width="17.87" height="7.985" fill="#c6e1ee"/>
<rect x="373.69" y="834.2" width="17.87" height="7.985" fill="#b8d9ea"/>
<rect x="391.56" y="834.2" width="17.87" height="7.985" fill="#c6e1ee"/>
<rect x="409.43" y="834.2" width="17.87" height="7.985" fill="#c6e1ee"/>
<rect x="52.00" y="842.2" width="17.87" height="7.985" fill="#fac6ad"/>
<rect x="69.87" y="842.2" width="17.87" height="7.985" fill="#fac6ad"/>
<rect x="87.74" y="842.2" width="17.87" height="7.985" fill="#fac6ad"/>
<rect x="105.61" y="842.2" width="17.87" height="7.985" fill="#1f80bf"/>
<rect x="123.49" y="842.2" width="17.87" height="7.985" fill="#1f80bf"/>
<rect x="141.36" y="842.2" width="17.87" height="7.985" fill="#1f80bf"/>
<rect x="159.23" y="842.2" width="17.87" height="7.985" fill="#e9e5e3"/>
<rect x="177.10" y="842.2" width="17.87" height="7.985" fill="#e9e5e3"/>
<rect x="194.97" y="842.2" width="17.87" height="7.985" fill="#e9e5e3"/>
<rect x="212.84" y="842.2" width="17.87" height="7.985" fill="#dde7ee"/>
<rect x="230.71" y="842.2" width="17.87" height="7.985" fill="#dde7ee"/>
<rect x="248.59" y="842.2" width="17.87" height="7.985" fill="#dde7ee"/>
<rect x="266.46" y="842.2" width="17.87" height="7.985" fill="#6cb6db"/>
<rect x="284.33" y="842.2" width="17.87" height="7.985" fill="#6cb6db"/>
<rect x="302.20" y="842.2" width="17.87" height="7.985" fill="#6cb6db"/>
<rect x="320.07" y="842.2" width="17.87" height="7.985" fill="#f48e6e"/>
<rect x="337.94" y="842.2" width="17.87" height="7.985" fill="#f48e6e"/>
<rect x="355.81" y="842.2" width="17.87" height="7.985" fill="#f48e6e"/>
<rect x="373.69" y="842.2" width="17.87" height="7.985" fill="#ec624f"/>
<rect x="391.56" y="842.2" width="17.87" height="7.985" fill="#f48e6e"/>
<rect x="409.43" y="842.2" width="17.87" height="7.985" fill="#f48e6e"/>
<rect x="52.00" y="850.2" width="17.87" height="7.985" fill="#f7ab8c"/>
<rect x="69.87" y="850.2" width="17.87" height="7.985" fill="#f7ab8c"/>
<rect x="87.74" y="850.2" width="17.87" height="7.985" fill="#f7ab8c"/>
<rect x="105.61" y="850.2" width="17.87" height="7.985" fill="#1f80bf"/>
<rect x="123.49" y="850.2" width="17.87" height="7.985" fill="#1f80bf"/>
<rect x="141.36" y="850.2" width="17.87" height="7.985" fill="#1f80bf"/>
<rect x="159.23" y="850.2" width="17.87" height="7.985" fill="#e9e5e3"/>
<rect x="177.10" y="850.2" width="17.87" height="7.985" fill="#e9e5e3"/>
<rect x="194.97" y="850.2" width="17.87" height="7.985" fill="#e9e5e3"/>
<rect x="212.84" y="850.2" width="17.87" height="7.985" fill="#dde7ee"/>
<rect x="230.71" y="850.2" width="17.87" height="7.985" fill="#dde7ee"/>
<rect x="248.59" y="850.2" width="17.87" height="7.985" fill="#dde7ee"/>
<rect x="266.46" y="850.2" width="17.87" height="7.985" fill="#5baed8"/>
<rect x="284.33" y="850.2" width="17.87" height="7.985" fill="#5baed8"/>
<rect x="302.20" y="850.2" width="17.87" height="7.985" fill="#5baed8"/>
<rect x="320.07" y="850.2" width="17.87" height="7.985" fill="#f7ab8c"/>
<rect x="337.94" y="850.2" width="17.87" height="7.985" fill="#f7ab8c"/>
<rect x="355.81" y="850.2" width="17.87" height="7.985" fill="#f7ab8c"/>
<rect x="373.69" y="850.2" width="17.87" height="7.985" fill="#f59c7c"/>
<rect x="391.56" y="850.2" width="17.87" height="7.985" fill="#f7ab8c"/>
<rect x="409.43" y="850.2" width="17.87" height="7.985" fill="#f7ab8c"/>
<rect x="52.00" y="858.2" width="17.87" height="7.985" fill="#dde7ee"/>
<rect x="69.87" y="858.2" width="17.87" height="7.985" fill="#dde7ee"/>
<rect x="87.74" y="858.2" width="17.87" height="7.985" fill="#dde7ee"/>
<rect x="105.61" y="858.2" width="17.87" height="7.985" fill="#1f80bf"/>
<rect x="123.49" y="858.2" width="17.87" height="7.985" fill="#1f80bf"/>
<rect x="141.36" y="858.2" width="17.87" height="7.985" fill="#1f80bf"/>
<rect x="159.23" y="858.2" width="17.87" height="7.985" fill="#f7ab8c"/>
<rect x="177.10" y="858.2" width="17.87" height="7.985" fill="#f7ab8c"/>
<rect x="194.97" y="858.2" width="17.87" height="7.985" fill="#f7ab8c"/>
<rect x="212.84" y="858.2" width="17.87" height="7.985" fill="#fbb898"/>
<rect x="230.71" y="858.2" width="17.87" height="7.985" fill="#fbb898"/>
<rect x="248.59" y="858.2" width="17.87" height="7.985" fill="#fbb898"/>
<rect x="266.46" y="858.2" width="17.87" height="7.985" fill="#6cb6db"/>
<rect x="284.33" y="858.2" width="17.87" height="7.985" fill="#6cb6db"/>
<rect x="302.20" y="858.2" width="17.87" height="7.985" fill="#6cb6db"/>
<rect x="320.07" y="858.2" width="17.87" height="7.985" fill="#f7ab8c"/>
<rect x="337.94" y="858.2" width="17.87" height="7.985" fill="#f7ab8c"/>
<rect x="355.81" y="858.2" width="17.87" height="7.985" fill="#f7ab8c"/>
<rect x="373.69" y="858.2" width="17.87" height="7.985" fill="#f7ab8c"/>
<rect x="391.56" y="858.2" width="17.87" height="7.985" fill="#fac6ad"/>
<rect x="409.43" y="858.2" width="17.87" height="7.985" fill="#fac6ad"/>
<rect x="52.00" y="866.2" width="17.87" height="7.985" fill="#2d96ce"/>
<rect x="69.87" y="866.2" width="17.87" height="7.985" fill="#3da0d3"/>
<rect x="87.74" y="866.2" width="17.87" height="7.985" fill="#2d96ce"/>
<rect x="105.61" y="866.2" width="17.87" height="7.985" fill="#1c72b5"/>
<rect x="123.49" y="866.2" width="17.87" height="7.985" fill="#1f80bf"/>
<rect x="141.36" y="866.2" width="17.87" height="7.985" fill="#6cb6db"/>
<rect x="159.23" y="866.2" width="17.87" height="7.985" fill="#fbb898"/>
<rect x="177.10" y="866.2" width="17.87" height="7.985" fill="#fbb898"/>
<rect x="194.97" y="866.2" width="17.87" height="7.985" fill="#fbb898"/>
<rect x="212.84" y="866.2" width="17.87" height="7.985" fill="#fbd3bf"/>
<rect x="230.71" y="866.2" width="17.87" height="7.985" fill="#fbd3bf"/>
<rect x="248.59" y="866.2" width="17.87" height="7.985" fill="#fbd3bf"/>
<rect x="266.46" y="866.2" width="17.87" height="7.985" fill="#f7ded3"/>
<rect x="284.33" y="866.2" width="17.87" height="7.985" fill="#f7ded3"/>
<rect x="302.20" y="866.2" width="17.87" height="7.985" fill="#f7ded3"/>
<rect x="320.07" y="866.2" width="17.87" height="7.985" fill="#f59c7c"/>
<rect x="337.94" y="866.2" width="17.87" height="7.985" fill="#f59c7c"/>
<rect x="355.81" y="866.2" width="17.87" height="7.985" fill="#f59c7c"/>
<rect x="373.69" y="866.2" width="17.87" height="7.985" fill="#f59c7c"/>
<rect x="391.56" y="866.2" width="17.87" height="7.985" fill="#f7ded3"/>
<rect x="409.43" y="866.2" width="17.87" height="7.985" fill="#f7ded3"/>
<rect x="52.00" y="874.1" width="17.87" height="7.985" fill="#b8d9ea"/>
<rect x="69.87" y="874.1" width="17.87" height="7.985" fill="#d0e4ef"/>
<rect x="87.74" y="874.1" width="17.87" height="7.985" fill="#a9d0e6"/>
<rect x="105.61" y="874.1" width="17.87" height="7.985" fill="#1866ad"/>
<rect x="123.49" y="874.1" width="17.87" height="7.985" fill="#1866ad"/>
<rect x="141.36" y="874.1" width="17.87" height="7.985" fill="#1866ad"/>
<rect x="159.23" y="874.1" width="17.87" height="7.985" fill="#f7ab8c"/>
<rect x="177.10" y="874.1" width="17.87" height="7.985" fill="#f7ab8c"/>
<rect x="194.97" y="874.1" width="17.87" height="7.985" fill="#f7ab8c"/>
<rect x="212.84" y="874.1" width="17.87" height="7.985" fill="#fac6ad"/>
<rect x="230.71" y="874.1" width="17.87" height="7.985" fill="#fac6ad"/>
<rect x="248.59" y="874.1" width="17.87" height="7.985" fill="#fac6ad"/>
<rect x="266.46" y="874.1" width="17.87" height="7.985" fill="#f7ded3"/>
<rect x="284.33" y="874.1" width="17.87" height="7.985" fill="#f7ded3"/>
<rect x="302.20" y="874.1" width="17.87" height="7.985" fill="#f7ded3"/>
<rect x="320.07" y="874.1" width="17.87" height="7.985" fill="#f59c7c"/>
<rect x="337.94" y="874.1" width="17.87" height="7.985" fill="#f59c7c"/>
<rect x="355.81" y="874.1" width="17.87" height="7.985" fill="#f59c7c"/>
<rect x="373.69" y="874.1" width="17.87" height="7.985" fill="#f59c7c"/>
<rect x="391.56" y="874.1" width="17.87" height="7.985" fill="#f7ded3"/>
<rect x="409.43" y="874.1" width="17.87" height="7.985" fill="#f7ded3"/>
<rect x="52.00" y="882.1" width="17.87" height="7.985" fill="#4ba7d6"/>
<rect x="69.87" y="882.1" width="17.87" height="7.985" fill="#4ba7d6"/>
<rect x="87.74" y="882.1" width="17.87" height="7.985" fill="#2d96ce"/>
<rect x="105.61" y="882.1" width="17.87" height="7.985" fill="#fac6ad"/>
<rect x="123.49" y="882.1" width="17.87" height="7.985" fill="#fac6ad"/>
<rect x="141.36" y="882.1" width="17.87" height="7.985" fill="#fac6ad"/>
<rect x="159.23" y="882.1" width="17.87" height="7.985" fill="#d0e4ef"/>
<rect x="177.10" y="882.1" width="17.87" height="7.985" fill="#d0e4ef"/>
<rect x="194.97" y="882.1" width="17.87" height="7.985" fill="#d0e4ef"/>
<rect x="212.84" y="882.1" width="17.87" height="7.985" fill="#cc0e2a"/>
<rect x="230.71" y="882.1" width="17.87" height="7.985" fill="#da2430"/>
<rect x="248.59" y="882.1" width="17.87" height="7.985" fill="#da2430"/>
<rect x="266.46" y="882.1" width="17.87" height="7.985" fill="#a9d0e6"/>
<rect x="284.33" y="882.1" width="17.87" height="7.985" fill="#a9d0e6"/>
<rect x="302.20" y="882.1" width="17.87" height="7.985" fill="#a9d0e6"/>
<rect x="320.07" y="882.1" width="17.87" height="7.985" fill="#dce0e2"/>
<rect x="337.94" y="882.1" width="17.87" height="7.985" fill="#c6e1ee"/>
<rect x="355.81" y="882.1" width="17.87" height="7.985" fill="#c6e1ee"/>
<rect x="373.69" y="882.1" width="17.87" height="7.985" fill="#c6e1ee"/>
<rect x="391.56" y="882.1" width="17.87" height="7.985" fill="#c6e1ee"/>
<rect x="409.43" y="882.1" width="17.87" height="7.985" fill="#c6e1ee"/>
<rect x="52.00" y="890.1" width="17.87" height="7.985" fill="#4ba7d6"/>
<rect x="69.87" y="890.1" width="17.87" height="7.985" fill="#4ba7d6"/>
<rect x="87.74" y="890.1" width="17.87" height="7.985" fill="#2290cb"/>
<rect x="105.61" y="890.1" width="17.87" height="7.985" fill="#fac6ad"/>
<rect x="123.49" y="890.1" width="17.87" height="7.985" fill="#fac6ad"/>
<rect x="141.36" y="890.1" width="17.87" height="7.985" fill="#fac6ad"/>
<rect x="159.23" y="890.1" width="17.87" height="7.985" fill="#d0e4ef"/>
<rect x="177.10" y="890.1" width="17.87" height="7.985" fill="#d0e4ef"/>
<rect x="194.97" y="890.1" width="17.87" height="7.985" fill="#d0e4ef"/>
<rect x="212.84" y="890.1" width="17.87" height="7.985" fill="#cc0e2a"/>
<rect x="230.71" y="890.1" width="17.87" height="7.985" fill="#dc3a38"/>
<rect x="248.59" y="890.1" width="17.87" height="7.985" fill="#da2430"/>
<rect x="266.46" y="890.1" width="17.87" height="7.985" fill="#a9d0e6"/>
<rect x="284.33" y="890.1" width="17.87" height="7.985" fill="#a9d0e6"/>
<rect x="302.20" y="890.1" width="17.87" height="7.985" fill="#a9d0e6"/>
<rect x="320.07" y="890.1" width="17.87" height="7.985" fill="#dce0e2"/>
<rect x="337.94" y="890.1" width="17.87" height="7.985" fill="#c6e1ee"/>
<rect x="355.81" y="890.1" width="17.87" height="7.985" fill="#c6e1ee"/>
<rect x="373.69" y="890.1" width="17.87" height="7.985" fill="#c6e1ee"/>
<rect x="391.56" y="890.1" width="17.87" height="7.985" fill="#c6e1ee"/>
<rect x="409.43" y="890.1" width="17.87" height="7.985" fill="#c6e1ee"/>
<rect x="52.00" y="898.1" width="17.87" height="7.985" fill="#4ba7d6"/>
<rect x="69.87" y="898.1" width="17.87" height="7.985" fill="#4ba7d6"/>
<rect x="87.74" y="898.1" width="17.87" height="7.985" fill="#2290cb"/>
<rect x="105.61" y="898.1" width="17.87" height="7.985" fill="#fac6ad"/>
<rect x="123.49" y="898.1" width="17.87" height="7.985" fill="#fac6ad"/>
<rect x="141.36" y="898.1" width="17.87" height="7.985" fill="#fac6ad"/>
<rect x="159.23" y="898.1" width="17.87" height="7.985" fill="#d0e4ef"/>
<rect x="177.10" y="898.1" width="17.87" height="7.985" fill="#d0e4ef"/>
<rect x="194.97" y="898.1" width="17.87" height="7.985" fill="#d0e4ef"/>
<rect x="212.84" y="898.1" width="17.87" height="7.985" fill="#cc0e2a"/>
<rect x="230.71" y="898.1" width="17.87" height="7.985" fill="#dc3a38"/>
<rect x="248.59" y="898.1" width="17.87" height="7.985" fill="#da2430"/>
<rect x="266.46" y="898.1" width="17.87" height="7.985" fill="#a9d0e6"/>
<rect x="284.33" y="898.1" width="17.87" height="7.985" fill="#a9d0e6"/>
<rect x="302.20" y="898.1" width="17.87" height="7.985" fill="#a9d0e6"/>
<rect x="320.07" y="898.1" width="17.87" height="7.985" fill="#dce0e2"/>
<rect x="337.94" y="898.1" width="17.87" height="7.985" fill="#c6e1ee"/>
<rect x="355.81" y="898.1" width="17.87" height="7.985" fill="#c6e1ee"/>
<rect x="373.69" y="898.1" width="17.87" height="7.985" fill="#c6e1ee"/>
<rect x="391.56" y="898.1" width="17.87" height="7.985" fill="#c6e1ee"/>
<rect x="409.43" y="898.1" width="17.87" height="7.985" fill="#c6e1ee"/>
<rect x="52.00" y="906.1" width="17.87" height="7.985" fill="#4ba7d6"/>
<rect x="69.87" y="906.1" width="17.87" height="7.985" fill="#4ba7d6"/>
<rect x="87.74" y="906.1" width="17.87" height="7.985" fill="#2290cb"/>
<rect x="105.61" y="906.1" width="17.87" height="7.985" fill="#fac6ad"/>
<rect x="123.49" y="906.1" width="17.87" height="7.985" fill="#fac6ad"/>
<rect x="141.36" y="906.1" width="17.87" height="7.985" fill="#fac6ad"/>
<rect x="159.23" y="906.1" width="17.87" height="7.985" fill="#d0e4ef"/>
<rect x="177.10" y="906.1" width="17.87" height="7.985" fill="#d0e4ef"/>
<rect x="194.97" y="906.1" width="17.87" height="7.985" fill="#d0e4ef"/>
<rect x="212.84" y="906.1" width="17.87" height="7.985" fill="#e44b42"/>
<rect x="230.71" y="906.1" width="17.87" height="7.985" fill="#da2430"/>
<rect x="248.59" y="906.1" width="17.87" height="7.985" fill="#9e0a24"/>
<rect x="266.46" y="906.1" width="17.87" height="7.985" fill="#a9d0e6"/>
<rect x="284.33" y="906.1" width="17.87" height="7.985" fill="#a9d0e6"/>
<rect x="302.20" y="906.1" width="17.87" height="7.985" fill="#a9d0e6"/>
<rect x="320.07" y="906.1" width="17.87" height="7.985" fill="#dce0e2"/>
<rect x="337.94" y="906.1" width="17.87" height="7.985" fill="#c6e1ee"/>
<rect x="355.81" y="906.1" width="17.87" height="7.985" fill="#c6e1ee"/>
<rect x="373.69" y="906.1" width="17.87" height="7.985" fill="#c6e1ee"/>
<rect x="391.56" y="906.1" width="17.87" height="7.985" fill="#c6e1ee"/>
<rect x="409.43" y="906.1" width="17.87" height="7.985" fill="#c6e1ee"/>
<rect x="52.00" y="914.1" width="17.87" height="7.985" fill="#4ba7d6"/>
<rect x="69.87" y="914.1" width="17.87" height="7.985" fill="#4ba7d6"/>
<rect x="87.74" y="914.1" width="17.87" height="7.985" fill="#2290cb"/>
<rect x="105.61" y="914.1" width="17.87" height="7.985" fill="#fac6ad"/>
<rect x="123.49" y="914.1" width="17.87" height="7.985" fill="#fac6ad"/>
<rect x="141.36" y="914.1" width="17.87" height="7.985" fill="#fac6ad"/>
<rect x="159.23" y="914.1" width="17.87" height="7.985" fill="#d0e4ef"/>
<rect x="177.10" y="914.1" width="17.87" height="7.985" fill="#d0e4ef"/>
<rect x="194.97" y="914.1" width="17.87" height="7.985" fill="#d0e4ef"/>
<rect x="212.84" y="914.1" width="17.87" height="7.985" fill="#e44b42"/>
<rect x="230.71" y="914.1" width="17.87" height="7.985" fill="#b8082a"/>
<rect x="248.59" y="914.1" width="17.87" height="7.985" fill="#da2430"/>
<rect x="266.46" y="914.1" width="17.87" height="7.985" fill="#a9d0e6"/>
<rect x="284.33" y="914.1" width="17.87" height="7.985" fill="#a9d0e6"/>
<rect x="302.20" y="914.1" width="17.87" height="7.985" fill="#a9d0e6"/>
<rect x="320.07" y="914.1" width="17.87" height="7.985" fill="#dce0e2"/>
<rect x="337.94" y="914.1" width="17.87" height="7.985" fill="#c6e1ee"/>
<rect x="355.81" y="914.1" width="17.87" height="7.985" fill="#c6e1ee"/>
<rect x="373.69" y="914.1" width="17.87" height="7.985" fill="#c6e1ee"/>
<rect x="391.56" y="914.1" width="17.87" height="7.985" fill="#c6e1ee"/>
<rect x="409.43" y="914.1" width="17.87" height="7.985" fill="#c6e1ee"/>
<rect x="52.00" y="922.0" width="17.87" height="7.985" fill="#e9e5e3"/>
<rect x="69.87" y="922.0" width="17.87" height="7.985" fill="#e9e5e3"/>
<rect x="87.74" y="922.0" width="17.87" height="7.985" fill="#e9e5e3"/>
<rect x="105.61" y="922.0" width="17.87" height="7.985" fill="#a9d0e6"/>
<rect x="123.49" y="922.0" width="17.87" height="7.985" fill="#a9d0e6"/>
<rect x="141.36" y="922.0" width="17.87" height="7.985" fill="#a9d0e6"/>
<rect x="159.23" y="922.0" width="17.87" height="7.985" fill="#f59c7c"/>
<rect x="177.10" y="922.0" width="17.87" height="7.985" fill="#f59c7c"/>
<rect x="194.97" y="922.0" width="17.87" height="7.985" fill="#f59c7c"/>
<rect x="212.84" y="922.0" width="17.87" height="7.985" fill="#fbb898"/>
<rect x="230.71" y="922.0" width="17.87" height="7.985" fill="#fbb898"/>
<rect x="248.59" y="922.0" width="17.87" height="7.985" fill="#fbb898"/>
<rect x="266.46" y="922.0" width="17.87" height="7.985" fill="#2d96ce"/>
<rect x="284.33" y="922.0" width="17.87" height="7.985" fill="#2d96ce"/>
<rect x="302.20" y="922.0" width="17.87" height="7.985" fill="#2d96ce"/>
<rect x="320.07" y="922.0" width="17.87" height="7.985" fill="#f48e6e"/>
<rect x="337.94" y="922.0" width="17.87" height="7.985" fill="#f48e6e"/>
<rect x="355.81" y="922.0" width="17.87" height="7.985" fill="#f48e6e"/>
<rect x="373.69" y="922.0" width="17.87" height="7.985" fill="#4ba7d6"/>
<rect x="391.56" y="922.0" width="17.87" height="7.985" fill="#4ba7d6"/>
<rect x="409.43" y="922.0" width="17.87" height="7.985" fill="#4ba7d6"/>
<rect x="52.00" y="930.0" width="17.87" height="7.985" fill="#6cb6db"/>
<rect x="69.87" y="930.0" width="17.87" height="7.985" fill="#6cb6db"/>
<rect x="87.74" y="930.0" width="17.87" height="7.985" fill="#4ba7d6"/>
<rect x="105.61" y="930.0" width="17.87" height="7.985" fill="#fbd3bf"/>
<rect x="123.49" y="930.0" width="17.87" height="7.985" fill="#fbd3bf"/>
<rect x="141.36" y="930.0" width="17.87" height="7.985" fill="#fbd3bf"/>
<rect x="159.23" y="930.0" width="17.87" height="7.985" fill="#da2430"/>
<rect x="177.10" y="930.0" width="17.87" height="7.985" fill="#9e0a24"/>
<rect x="194.97" y="930.0" width="17.87" height="7.985" fill="#cc0e2a"/>
<rect x="212.84" y="930.0" width="17.87" height="7.985" fill="#a9d0e6"/>
<rect x="230.71" y="930.0" width="17.87" height="7.985" fill="#a9d0e6"/>
<rect x="248.59" y="930.0" width="17.87" height="7.985" fill="#a9d0e6"/>
<rect x="266.46" y="930.0" width="17.87" height="7.985" fill="#c6e1ee"/>
<rect x="284.33" y="930.0" width="17.87" height="7.985" fill="#c6e1ee"/>
<rect x="302.20" y="930.0" width="17.87" height="7.985" fill="#c6e1ee"/>
<rect x="320.07" y="930.0" width="17.87" height="7.985" fill="#dde7ee"/>
<rect x="337.94" y="930.0" width="17.87" height="7.985" fill="#dde7ee"/>
<rect x="355.81" y="930.0" width="17.87" height="7.985" fill="#dde7ee"/>
<rect x="373.69" y="930.0" width="17.87" height="7.985" fill="#c6e1ee"/>
<rect x="391.56" y="930.0" width="17.87" height="7.985" fill="#c6e1ee"/>
<rect x="409.43" y="930.0" width="17.87" height="7.985" fill="#c6e1ee"/>
<rect x="52.00" y="938.0" width="17.87" height="7.985" fill="#d0e4ef"/>
<rect x="69.87" y="938.0" width="17.87" height="7.985" fill="#d0e4ef"/>
<rect x="87.74" y="938.0" width="17.87" height="7.985" fill="#d0e4ef"/>
<rect x="105.61" y="938.0" width="17.87" height="7.985" fill="#5baed8"/>
<rect x="123.49" y="938.0" width="17.87" height="7.985" fill="#5baed8"/>
<rect x="141.36" y="938.0" width="17.87" height="7.985" fill="#5baed8"/>
<rect x="159.23" y="938.0" width="17.87" height="7.985" fill="#f48e6e"/>
<rect x="177.10" y="938.0" width="17.87" height="7.985" fill="#f48e6e"/>
<rect x="194.97" y="938.0" width="17.87" height="7.985" fill="#f48e6e"/>
<rect x="212.84" y="938.0" width="17.87" height="7.985" fill="#fbd3bf"/>
<rect x="230.71" y="938.0" width="17.87" height="7.985" fill="#fbd3bf"/>
<rect x="248.59" y="938.0" width="17.87" height="7.985" fill="#fbd3bf"/>
<rect x="266.46" y="938.0" width="17.87" height="7.985" fill="#fbd3bf"/>
<rect x="284.33" y="938.0" width="17.87" height="7.985" fill="#fbd3bf"/>
<rect x="302.20" y="938.0" width="17.87" height="7.985" fill="#fbd3bf"/>
<rect x="320.07" y="938.0" width="17.87" height="7.985" fill="#1f80bf"/>
<rect x="337.94" y="938.0" width="17.87" height="7.985" fill="#1f80bf"/>
<rect x="355.81" y="938.0" width="17.87" height="7.985" fill="#1f80bf"/>
<rect x="373.69" y="938.0" width="17.87" height="7.985" fill="#f48e6e"/>
<rect x="391.56" y="938.0" width="17.87" height="7.985" fill="#f7ab8c"/>
<rect x="409.43" y="938.0" width="17.87" height="7.985" fill="#f7ab8c"/>
<rect x="52.00" y="946.0" width="17.87" height="7.985" fill="#2290cb"/>
<rect x="69.87" y="946.0" width="17.87" height="7.985" fill="#2290cb"/>
<rect x="87.74" y="946.0" width="17.87" height="7.985" fill="#2290cb"/>
<rect x="105.61" y="946.0" width="17.87" height="7.985" fill="#a9d0e6"/>
<rect x="123.49" y="946.0" width="17.87" height="7.985" fill="#a9d0e6"/>
<rect x="141.36" y="946.0" width="17.87" height="7.985" fill="#a9d0e6"/>
<rect x="159.23" y="946.0" width="17.87" height="7.985" fill="#f59c7c"/>
<rect x="177.10" y="946.0" width="17.87" height="7.985" fill="#f59c7c"/>
<rect x="194.97" y="946.0" width="17.87" height="7.985" fill="#f59c7c"/>
<rect x="212.84" y="946.0" width="17.87" height="7.985" fill="#f7ab8c"/>
<rect x="230.71" y="946.0" width="17.87" height="7.985" fill="#f7ab8c"/>
<rect x="248.59" y="946.0" width="17.87" height="7.985" fill="#f7ab8c"/>
<rect x="266.46" y="946.0" width="17.87" height="7.985" fill="#e9e5e3"/>
<rect x="284.33" y="946.0" width="17.87" height="7.985" fill="#e9e5e3"/>
<rect x="302.20" y="946.0" width="17.87" height="7.985" fill="#e9e5e3"/>
<rect x="320.07" y="946.0" width="17.87" height="7.985" fill="#5baed8"/>
<rect x="337.94" y="946.0" width="17.87" height="7.985" fill="#5baed8"/>
<rect x="355.81" y="946.0" width="17.87" height="7.985" fill="#5baed8"/>
<rect x="373.69" y="946.0" width="17.87" height="7.985" fill="#f27d62"/>
<rect x="391.56" y="946.0" width="17.87" height="7.985" fill="#f27d62"/>
<rect x="409.43" y="946.0" width="17.87" height="7.985" fill="#f27d62"/>
<rect x="52.00" y="954.0" width="17.87" height="7.985" fill="#4ba7d6"/>
<rect x="69.87" y="954.0" width="17.87" height="7.985" fill="#4ba7d6"/>
<rect x="87.74" y="954.0" width="17.87" height="7.985" fill="#3da0d3"/>
<rect x="105.61" y="954.0" width="17.87" height="7.985" fill="#e9e5e3"/>
<rect x="123.49" y="954.0" width="17.87" height="7.985" fill="#e9e5e3"/>
<rect x="141.36" y="954.0" width="17.87" height="7.985" fill="#e9e5e3"/>
<rect x="159.23" y="954.0" width="17.87" height="7.985" fill="#a9d0e6"/>
<rect x="177.10" y="954.0" width="17.87" height="7.985" fill="#a9d0e6"/>
<rect x="194.97" y="954.0" width="17.87" height="7.985" fill="#a9d0e6"/>
<rect x="212.84" y="954.0" width="17.87" height="7.985" fill="#e44b42"/>
<rect x="230.71" y="954.0" width="17.87" height="7.985" fill="#e44b42"/>
<rect x="248.59" y="954.0" width="17.87" height="7.985" fill="#e44b42"/>
<rect x="266.46" y="954.0" width="17.87" height="7.985" fill="#dc3a38"/>
<rect x="284.33" y="954.0" width="17.87" height="7.985" fill="#f59c7c"/>
<rect x="302.20" y="954.0" width="17.87" height="7.985" fill="#f59c7c"/>
<rect x="320.07" y="954.0" width="17.87" height="7.985" fill="#a9d0e6"/>
<rect x="337.94" y="954.0" width="17.87" height="7.985" fill="#a9d0e6"/>
<rect x="355.81" y="954.0" width="17.87" height="7.985" fill="#a9d0e6"/>
<rect x="373.69" y="954.0" width="17.87" height="7.985" fill="#8cc3e1"/>
<rect x="391.56" y="954.0" width="17.87" height="7.985" fill="#8cc3e1"/>
<rect x="409.43" y="954.0" width="17.87" height="7.985" fill="#8cc3e1"/>
<rect x="52.00" y="962.0" width="17.87" height="7.985" fill="#3da0d3"/>
<rect x="69.87" y="962.0" width="17.87" height="7.985" fill="#3da0d3"/>
<rect x="87.74" y="962.0" width="17.87" height="7.985" fill="#2d96ce"/>
<rect x="105.61" y="962.0" width="17.87" height="7.985" fill="#dde7ee"/>
<rect x="123.49" y="962.0" width="17.87" height="7.985" fill="#dde7ee"/>
<rect x="141.36" y="962.0" width="17.87" height="7.985" fill="#dde7ee"/>
<rect x="159.23" y="962.0" width="17.87" height="7.985" fill="#f48e6e"/>
<rect x="177.10" y="962.0" width="17.87" height="7.985" fill="#f48e6e"/>
<rect x="194.97" y="962.0" width="17.87" height="7.985" fill="#f48e6e"/>
<rect x="212.84" y="962.0" width="17.87" height="7.985" fill="#f59c7c"/>
<rect x="230.71" y="962.0" width="17.87" height="7.985" fill="#f59c7c"/>
<rect x="248.59" y="962.0" width="17.87" height="7.985" fill="#f59c7c"/>
<rect x="266.46" y="962.0" width="17.87" height="7.985" fill="#f7ab8c"/>
<rect x="284.33" y="962.0" width="17.87" height="7.985" fill="#f7ab8c"/>
<rect x="302.20" y="962.0" width="17.87" height="7.985" fill="#f7ab8c"/>
<rect x="320.07" y="962.0" width="17.87" height="7.985" fill="#6cb6db"/>
<rect x="337.94" y="962.0" width="17.87" height="7.985" fill="#6cb6db"/>
<rect x="355.81" y="962.0" width="17.87" height="7.985" fill="#6cb6db"/>
<rect x="373.69" y="962.0" width="17.87" height="7.985" fill="#6cb6db"/>
<rect x="391.56" y="962.0" width="17.87" height="7.985" fill="#6cb6db"/>
<rect x="409.43" y="962.0" width="17.87" height="7.985" fill="#6cb6db"/>
<rect x="52.00" y="970.0" width="17.87" height="7.985" fill="#3da0d3"/>
<rect x="69.87" y="970.0" width="17.87" height="7.985" fill="#3da0d3"/>
<rect x="87.74" y="970.0" width="17.87" height="7.985" fill="#3da0d3"/>
<rect x="105.61" y="970.0" width="17.87" height="7.985" fill="#d0e4ef"/>
<rect x="123.49" y="970.0" width="17.87" height="7.985" fill="#d0e4ef"/>
<rect x="141.36" y="970.0" width="17.87" height="7.985" fill="#d0e4ef"/>
<rect x="159.23" y="970.0" width="17.87" height="7.985" fill="#f27d62"/>
<rect x="177.10" y="970.0" width="17.87" height="7.985" fill="#f27d62"/>
<rect x="194.97" y="970.0" width="17.87" height="7.985" fill="#f27d62"/>
<rect x="212.84" y="970.0" width="17.87" height="7.985" fill="#f48e6e"/>
<rect x="230.71" y="970.0" width="17.87" height="7.985" fill="#f48e6e"/>
<rect x="248.59" y="970.0" width="17.87" height="7.985" fill="#f48e6e"/>
<rect x="266.46" y="970.0" width="17.87" height="7.985" fill="#fbb898"/>
<rect x="284.33" y="970.0" width="17.87" height="7.985" fill="#fbb898"/>
<rect x="302.20" y="970.0" width="17.87" height="7.985" fill="#fbb898"/>
<rect x="320.07" y="970.0" width="17.87" height="7.985" fill="#6cb6db"/>
<rect x="337.94" y="970.0" width="17.87" height="7.985" fill="#6cb6db"/>
<rect x="355.81" y="970.0" width="17.87" height="7.985" fill="#6cb6db"/>
<rect x="373.69" y="970.0" width="17.87" height="7.985" fill="#6cb6db"/>
<rect x="391.56" y="970.0" width="17.87" height="7.985" fill="#6cb6db"/>
<rect x="409.43" y="970.0" width="17.87" height="7.985" fill="#6cb6db"/>
<rect x="52.00" y="977.9" width="17.87" height="7.985" fill="#1866ad"/>
<rect x="69.87" y="977.9" width="17.87" height="7.985" fill="#1866ad"/>
<rect x="87.74" y="977.9" width="17.87" height="7.985" fill="#1866ad"/>
<rect x="105.61" y="977.9" width="17.87" height="7.985" fill="#f7ab8c"/>
<rect x="123.49" y="977.9" width="17.87" height="7.985" fill="#f59c7c"/>
<rect x="141.36" y="977.9" width="17.87" height="7.985" fill="#e44b42"/>
<rect x="159.23" y="977.9" width="17.87" height="7.985" fill="#fac6ad"/>
<rect x="177.10" y="977.9" width="17.87" height="7.985" fill="#fac6ad"/>
<rect x="194.97" y="977.9" width="17.87" height="7.985" fill="#fac6ad"/>
<rect x="212.84" y="977.9" width="17.87" height="7.985" fill="#e9e5e3"/>
<rect x="230.71" y="977.9" width="17.87" height="7.985" fill="#e9e5e3"/>
<rect x="248.59" y="977.9" width="17.87" height="7.985" fill="#e9e5e3"/>
<rect x="266.46" y="977.9" width="17.87" height="7.985" fill="#a9d0e6"/>
<rect x="284.33" y="977.9" width="17.87" height="7.985" fill="#a9d0e6"/>
<rect x="302.20" y="977.9" width="17.87" height="7.985" fill="#a9d0e6"/>
<rect x="320.07" y="977.9" width="17.87" height="7.985" fill="#f7ded3"/>
<rect x="337.94" y="977.9" width="17.87" height="7.985" fill="#f7ded3"/>
<rect x="355.81" y="977.9" width="17.87" height="7.985" fill="#f7ded3"/>
<rect x="373.69" y="977.9" width="17.87" height="7.985" fill="#fbb898"/>
<rect x="391.56" y="977.9" width="17.87" height="7.985" fill="#f7ded3"/>
<rect x="409.43" y="977.9" width="17.87" height="7.985" fill="#f7ded3"/>
<rect x="52.00" y="985.9" width="17.87" height="7.985" fill="#1866ad"/>
<rect x="69.87" y="985.9" width="17.87" height="7.985" fill="#1866ad"/>
<rect x="87.74" y="985.9" width="17.87" height="7.985" fill="#1866ad"/>
<rect x="105.61" y="985.9" width="17.87" height="7.985" fill="#f7ab8c"/>
<rect x="123.49" y="985.9" width="17.87" height="7.985" fill="#f59c7c"/>
<rect x="141.36" y="985.9" width="17.87" height="7.985" fill="#e44b42"/>
<rect x="159.23" y="985.9" width="17.87" height="7.985" fill="#fac6ad"/>
<rect x="177.10" y="985.9" width="17.87" height="7.985" fill="#fac6ad"/>
<rect x="194.97" y="985.9" width="17.87" height="7.985" fill="#fac6ad"/>
<rect x="212.84" y="985.9" width="17.87" height="7.985" fill="#e9e5e3"/>
<rect x="230.71" y="985.9" width="17.87" height="7.985" fill="#e9e5e3"/>
<rect x="248.59" y="985.9" width="17.87" height="7.985" fill="#e9e5e3"/>
<rect x="266.46" y="985.9" width="17.87" height="7.985" fill="#a9d0e6"/>
<rect x="284.33" y="985.9" width="17.87" height="7.985" fill="#a9d0e6"/>
<rect x="302.20" y="985.9" width="17.87" height="7.985" fill="#a9d0e6"/>
<rect x="320.07" y="985.9" width="17.87" height="7.985" fill="#fac6ad"/>
<rect x="337.94" y="985.9" width="17.87" height="7.985" fill="#fac6ad"/>
<rect x="355.81" y="985.9" width="17.87" height="7.985" fill="#fac6ad"/>
<rect x="373.69" y="985.9" width="17.87" height="7.985" fill="#f7ab8c"/>
<rect x="391.56" y="985.9" width="17.87" height="7.985" fill="#fbd3bf"/>
<rect x="409.43" y="985.9" width="17.87" height="7.985" fill="#fbd3bf"/>
<rect x="52.00" y="993.9" width="17.87" height="7.985" fill="#1f80bf"/>
<rect x="69.87" y="993.9" width="17.87" height="7.985" fill="#1f80bf"/>
<rect x="87.74" y="993.9" width="17.87" height="7.985" fill="#1f80bf"/>
<rect x="105.61" y="993.9" width="17.87" height="7.985" fill="#f7ab8c"/>
<rect x="123.49" y="993.9" width="17.87" height="7.985" fill="#f27d62"/>
<rect x="141.36" y="993.9" width="17.87" height="7.985" fill="#cc0e2a"/>
<rect x="159.23" y="993.9" width="17.87" height="7.985" fill="#dde7ee"/>
<rect x="177.10" y="993.9" width="17.87" height="7.985" fill="#dde7ee"/>
<rect x="194.97" y="993.9" width="17.87" height="7.985" fill="#dde7ee"/>
<rect x="212.84" y="993.9" width="17.87" height="7.985" fill="#b8d9ea"/>
<rect x="230.71" y="993.9" width="17.87" height="7.985" fill="#b8d9ea"/>
<rect x="248.59" y="993.9" width="17.87" height="7.985" fill="#b8d9ea"/>
<rect x="266.46" y="993.9" width="17.87" height="7.985" fill="#a9d0e6"/>
<rect x="284.33" y="993.9" width="17.87" height="7.985" fill="#a9d0e6"/>
<rect x="302.20" y="993.9" width="17.87" height="7.985" fill="#a9d0e6"/>
<rect x="320.07" y="993.9" width="17.87" height="7.985" fill="#fbd3bf"/>
<rect x="337.94" y="993.9" width="17.87" height="7.985" fill="#fbd3bf"/>
<rect x="355.81" y="993.9" width="17.87" height="7.985" fill="#fbd3bf"/>
<rect x="373.69" y="993.9" width="17.87" height="7.985" fill="#f7ab8c"/>
<rect x="391.56" y="993.9" width="17.87" height="7.985" fill="#f7ded3"/>
<rect x="409.43" y="993.9" width="17.87" height="7.985" fill="#f7ded3"/>
<rect x="52.00" y="1001.9" width="17.87" height="7.985" fill="#2290cb"/>
<rect x="69.87" y="1001.9" width="17.87" height="7.985" fill="#2290cb"/>
<rect x="87.74" y="1001.9" width="17.87" height="7.985" fill="#2290cb"/>
<rect x="105.61" y="1001.9" width="17.87" height="7.985" fill="#f7ab8c"/>
<rect x="123.49" y="1001.9" width="17.87" height="7.985" fill="#f27d62"/>
<rect x="141.36" y="1001.9" width="17.87" height="7.985" fill="#b8082a"/>
<rect x="159.23" y="1001.9" width="17.87" height="7.985" fill="#fac6ad"/>
<rect x="177.10" y="1001.9" width="17.87" height="7.985" fill="#fac6ad"/>
<rect x="194.97" y="1001.9" width="17.87" height="7.985" fill="#fac6ad"/>
<rect x="212.84" y="1001.9" width="17.87" height="7.985" fill="#c6e1ee"/>
<rect x="230.71" y="1001.9" width="17.87" height="7.985" fill="#c6e1ee"/>
<rect x="248.59" y="1001.9" width="17.87" height="7.985" fill="#c6e1ee"/>
<rect x="266.46" y="1001.9" width="17.87" height="7.985" fill="#a9d0e6"/>
<rect x="284.33" y="1001.9" width="17.87" height="7.985" fill="#a9d0e6"/>
<rect x="302.20" y="1001.9" width="17.87" height="7.985" fill="#a9d0e6"/>
<rect x="320.07" y="1001.9" width="17.87" height="7.985" fill="#fbd3bf"/>
<rect x="337.94" y="1001.9" width="17.87" height="7.985" fill="#fbd3bf"/>
<rect x="355.81" y="1001.9" width="17.87" height="7.985" fill="#fbd3bf"/>
<rect x="373.69" y="1001.9" width="17.87" height="7.985" fill="#f7ab8c"/>
<rect x="391.56" y="1001.9" width="17.87" height="7.985" fill="#c6e1ee"/>
<rect x="409.43" y="1001.9" width="17.87" height="7.985" fill="#c6e1ee"/>
<rect x="52.00" y="1009.9" width="17.87" height="7.985" fill="#1f80bf"/>
<rect x="69.87" y="1009.9" width="17.87" height="7.985" fill="#1f80bf"/>
<rect x="87.74" y="1009.9" width="17.87" height="7.985" fill="#1f80bf"/>
<rect x="105.61" y="1009.9" width="17.87" height="7.985" fill="#f7ab8c"/>
<rect x="123.49" y="1009.9" width="17.87" height="7.985" fill="#f27d62"/>
<rect x="141.36" y="1009.9" width="17.87" height="7.985" fill="#cc0e2a"/>
<rect x="159.23" y="1009.9" width="17.87" height="7.985" fill="#fac6ad"/>
<rect x="177.10" y="1009.9" width="17.87" height="7.985" fill="#fac6ad"/>
<rect x="194.97" y="1009.9" width="17.87" height="7.985" fill="#fac6ad"/>
<rect x="212.84" y="1009.9" width="17.87" height="7.985" fill="#d0e4ef"/>
<rect x="230.71" y="1009.9" width="17.87" height="7.985" fill="#d0e4ef"/>
<rect x="248.59" y="1009.9" width="17.87" height="7.985" fill="#d0e4ef"/>
<rect x="266.46" y="1009.9" width="17.87" height="7.985" fill="#a9d0e6"/>
<rect x="284.33" y="1009.9" width="17.87" height="7.985" fill="#a9d0e6"/>
<rect x="302.20" y="1009.9" width="17.87" height="7.985" fill="#a9d0e6"/>
<rect x="320.07" y="1009.9" width="17.87" height="7.985" fill="#fbd3bf"/>
<rect x="337.94" y="1009.9" width="17.87" height="7.985" fill="#fbd3bf"/>
<rect x="355.81" y="1009.9" width="17.87" height="7.985" fill="#fbd3bf"/>
<rect x="373.69" y="1009.9" width="17.87" height="7.985" fill="#f7ab8c"/>
<rect x="391.56" y="1009.9" width="17.87" height="7.985" fill="#dde7ee"/>
<rect x="409.43" y="1009.9" width="17.87" height="7.985" fill="#dde7ee"/>
<rect x="52.00" y="1017.9" width="17.87" height="7.985" fill="#1f80bf"/>
<rect x="69.87" y="1017.9" width="17.87" height="7.985" fill="#1f80bf"/>
<rect x="87.74" y="1017.9" width="17.87" height="7.985" fill="#1f80bf"/>
<rect x="105.61" y="1017.9" width="17.87" height="7.985" fill="#fbb898"/>
<rect x="123.49" y="1017.9" width="17.87" height="7.985" fill="#f48e6e"/>
<rect x="141.36" y="1017.9" width="17.87" height="7.985" fill="#da2430"/>
<rect x="159.23" y="1017.9" width="17.87" height="7.985" fill="#fac6ad"/>
<rect x="177.10" y="1017.9" width="17.87" height="7.985" fill="#fac6ad"/>
<rect x="194.97" y="1017.9" width="17.87" height="7.985" fill="#fac6ad"/>
<rect x="212.84" y="1017.9" width="17.87" height="7.985" fill="#e9e5e3"/>
<rect x="230.71" y="1017.9" width="17.87" height="7.985" fill="#e9e5e3"/>
<rect x="248.59" y="1017.9" width="17.87" height="7.985" fill="#e9e5e3"/>
<rect x="266.46" y="1017.9" width="17.87" height="7.985" fill="#a9d0e6"/>
<rect x="284.33" y="1017.9" width="17.87" height="7.985" fill="#a9d0e6"/>
<rect x="302.20" y="1017.9" width="17.87" height="7.985" fill="#a9d0e6"/>
<rect x="320.07" y="1017.9" width="17.87" height="7.985" fill="#fbd3bf"/>
<rect x="337.94" y="1017.9" width="17.87" height="7.985" fill="#fbd3bf"/>
<rect x="355.81" y="1017.9" width="17.87" height="7.985" fill="#fbd3bf"/>
<rect x="373.69" y="1017.9" width="17.87" height="7.985" fill="#fbb898"/>
<rect x="391.56" y="1017.9" width="17.87" height="7.985" fill="#d0e4ef"/>
<rect x="409.43" y="1017.9" width="17.87" height="7.985" fill="#d0e4ef"/>
<rect x="52.00" y="1025.9" width="17.87" height="7.985" fill="#1f80bf"/>
<rect x="69.87" y="1025.9" width="17.87" height="7.985" fill="#1f80bf"/>
<rect x="87.74" y="1025.9" width="17.87" height="7.985" fill="#1f80bf"/>
<rect x="105.61" y="1025.9" width="17.87" height="7.985" fill="#fbb898"/>
<rect x="123.49" y="1025.9" width="17.87" height="7.985" fill="#fbb898"/>
<rect x="141.36" y="1025.9" width="17.87" height="7.985" fill="#ec624f"/>
<rect x="159.23" y="1025.9" width="17.87" height="7.985" fill="#fbb898"/>
<rect x="177.10" y="1025.9" width="17.87" height="7.985" fill="#fbb898"/>
<rect x="194.97" y="1025.9" width="17.87" height="7.985" fill="#fbb898"/>
<rect x="212.84" y="1025.9" width="17.87" height="7.985" fill="#fac6ad"/>
<rect x="230.71" y="1025.9" width="17.87" height="7.985" fill="#fac6ad"/>
<rect x="248.59" y="1025.9" width="17.87" height="7.985" fill="#fac6ad"/>
<rect x="266.46" y="1025.9" width="17.87" height="7.985" fill="#f7ded3"/>
<rect x="284.33" y="1025.9" width="17.87" height="7.985" fill="#f7ded3"/>
<rect x="302.20" y="1025.9" width="17.87" height="7.985" fill="#f7ded3"/>
<rect x="320.07" y="1025.9" width="17.87" height="7.985" fill="#f7ab8c"/>
<rect x="337.94" y="1025.9" width="17.87" height="7.985" fill="#f7ab8c"/>
<rect x="355.81" y="1025.9" width="17.87" height="7.985" fill="#f7ab8c"/>
<rect x="373.69" y="1025.9" width="17.87" height="7.985" fill="#2d96ce"/>
<rect x="391.56" y="1025.9" width="17.87" height="7.985" fill="#2d96ce"/>
<rect x="409.43" y="1025.9" width="17.87" height="7.985" fill="#2d96ce"/>
<rect x="52.00" y="1033.8" width="17.87" height="7.985" fill="#4ba7d6"/>
<rect x="69.87" y="1033.8" width="17.87" height="7.985" fill="#4ba7d6"/>
<rect x="87.74" y="1033.8" width="17.87" height="7.985" fill="#5baed8"/>
<rect x="105.61" y="1033.8" width="17.87" height="7.985" fill="#da2430"/>
<rect x="123.49" y="1033.8" width="17.87" height="7.985" fill="#da2430"/>
<rect x="141.36" y="1033.8" width="17.87" height="7.985" fill="#9e0a24"/>
<rect x="159.23" y="1033.8" width="17.87" height="7.985" fill="#e9e5e3"/>
<rect x="177.10" y="1033.8" width="17.87" height="7.985" fill="#e9e5e3"/>
<rect x="194.97" y="1033.8" width="17.87" height="7.985" fill="#e9e5e3"/>
<rect x="212.84" y="1033.8" width="17.87" height="7.985" fill="#b8d9ea"/>
<rect x="230.71" y="1033.8" width="17.87" height="7.985" fill="#b8d9ea"/>
<rect x="248.59" y="1033.8" width="17.87" height="7.985" fill="#b8d9ea"/>
<rect x="266.46" y="1033.8" width="17.87" height="7.985" fill="#d0e4ef"/>
<rect x="284.33" y="1033.8" width="17.87" height="7.985" fill="#d0e4ef"/>
<rect x="302.20" y="1033.8" width="17.87" height="7.985" fill="#d0e4ef"/>
<rect x="320.07" y="1033.8" width="17.87" height="7.985" fill="#dde7ee"/>
<rect x="337.94" y="1033.8" width="17.87" height="7.985" fill="#dde7ee"/>
<rect x="355.81" y="1033.8" width="17.87" height="7.985" fill="#dde7ee"/>
<rect x="373.69" y="1033.8" width="17.87" height="7.985" fill="#e9e5e3"/>
<rect x="391.56" y="1033.8" width="17.87" height="7.985" fill="#a9d0e6"/>
<rect x="409.43" y="1033.8" width="17.87" height="7.985" fill="#a9d0e6"/>
<rect x="52.00" y="1041.8" width="17.87" height="7.985" fill="#fac6ad"/>
<rect x="69.87" y="1041.8" width="17.87" height="7.985" fill="#fac6ad"/>
<rect x="87.74" y="1041.8" width="17.87" height="7.985" fill="#fbb898"/>
<rect x="105.61" y="1041.8" width="17.87" height="7.985" fill="#e9e5e3"/>
<rect x="123.49" y="1041.8" width="17.87" height="7.985" fill="#e9e5e3"/>
<rect x="141.36" y="1041.8" width="17.87" height="7.985" fill="#e9e5e3"/>
<rect x="159.23" y="1041.8" width="17.87" height="7.985" fill="#a9d0e6"/>
<rect x="177.10" y="1041.8" width="17.87" height="7.985" fill="#a9d0e6"/>
<rect x="194.97" y="1041.8" width="17.87" height="7.985" fill="#a9d0e6"/>
<rect x="212.84" y="1041.8" width="17.87" height="7.985" fill="#a9d0e6"/>
<rect x="230.71" y="1041.8" width="17.87" height="7.985" fill="#a9d0e6"/>
<rect x="248.59" y="1041.8" width="17.87" height="7.985" fill="#a9d0e6"/>
<rect x="266.46" y="1041.8" width="17.87" height="7.985" fill="#cc0e2a"/>
<rect x="284.33" y="1041.8" width="17.87" height="7.985" fill="#cc0e2a"/>
<rect x="302.20" y="1041.8" width="17.87" height="7.985" fill="#cc0e2a"/>
<rect x="320.07" y="1041.8" width="17.87" height="7.985" fill="#a9d0e6"/>
<rect x="337.94" y="1041.8" width="17.87" height="7.985" fill="#a9d0e6"/>
<rect x="355.81" y="1041.8" width="17.87" height="7.985" fill="#a9d0e6"/>
<rect x="373.69" y="1041.8" width="17.87" height="7.985" fill="#a9d0e6"/>
<rect x="391.56" y="1041.8" width="17.87" height="7.985" fill="#a9d0e6"/>
<rect x="409.43" y="1041.8" width="17.87" height="7.985" fill="#a9d0e6"/>
<rect x="52.00" y="1049.8" width="17.87" height="7.985" fill="#4ba7d6"/>
<rect x="69.87" y="1049.8" width="17.87" height="7.985" fill="#4ba7d6"/>
<rect x="87.74" y="1049.8" width="17.87" height="7.985" fill="#2290cb"/>
<rect x="105.61" y="1049.8" width="17.87" height="7.985" fill="#fbd3bf"/>
<rect x="123.49" y="1049.8" width="17.87" height="7.985" fill="#fbd3bf"/>
<rect x="141.36" y="1049.8" width="17.87" height="7.985" fill="#fbd3bf"/>
<rect x="159.23" y="1049.8" width="17.87" height="7.985" fill="#d0e4ef"/>
<rect x="177.10" y="1049.8" width="17.87" height="7.985" fill="#d0e4ef"/>
<rect x="194.97" y="1049.8" width="17.87" height="7.985" fill="#d0e4ef"/>
<rect x="212.84" y="1049.8" width="17.87" height="7.985" fill="#a9d0e6"/>
<rect x="230.71" y="1049.8" width="17.87" height="7.985" fill="#a9d0e6"/>
<rect x="248.59" y="1049.8" width="17.87" height="7.985" fill="#a9d0e6"/>
<rect x="266.46" y="1049.8" width="17.87" height="7.985" fill="#e44b42"/>
<rect x="284.33" y="1049.8" width="17.87" height="7.985" fill="#cc0e2a"/>
<rect x="302.20" y="1049.8" width="17.87" height="7.985" fill="#9e0a24"/>
<rect x="320.07" y="1049.8" width="17.87" height="7.985" fill="#e9e5e3"/>
<rect x="337.94" y="1049.8" width="17.87" height="7.985" fill="#e9e5e3"/>
<rect x="355.81" y="1049.8" width="17.87" height="7.985" fill="#e9e5e3"/>
<rect x="373.69" y="1049.8" width="17.87" height="7.985" fill="#c6e1ee"/>
<rect x="391.56" y="1049.8" width="17.87" height="7.985" fill="#c6e1ee"/>
<rect x="409.43" y="1049.8" width="17.87" height="7.985" fill="#c6e1ee"/>
<rect x="52.00" y="1057.8" width="17.87" height="7.985" fill="#4ba7d6"/>
<rect x="69.87" y="1057.8" width="17.87" height="7.985" fill="#4ba7d6"/>
<rect x="87.74" y="1057.8" width="17.87" height="7.985" fill="#2290cb"/>
<rect x="105.61" y="1057.8" width="17.87" height="7.985" fill="#fac6ad"/>
<rect x="123.49" y="1057.8" width="17.87" height="7.985" fill="#fac6ad"/>
<rect x="141.36" y="1057.8" width="17.87" height="7.985" fill="#fac6ad"/>
<rect x="159.23" y="1057.8" width="17.87" height="7.985" fill="#d0e4ef"/>
<rect x="177.10" y="1057.8" width="17.87" height="7.985" fill="#d0e4ef"/>
<rect x="194.97" y="1057.8" width="17.87" height="7.985" fill="#d0e4ef"/>
<rect x="212.84" y="1057.8" width="17.87" height="7.985" fill="#a9d0e6"/>
<rect x="230.71" y="1057.8" width="17.87" height="7.985" fill="#a9d0e6"/>
<rect x="248.59" y="1057.8" width="17.87" height="7.985" fill="#a9d0e6"/>
<rect x="266.46" y="1057.8" width="17.87" height="7.985" fill="#cc0e2a"/>
<rect x="284.33" y="1057.8" width="17.87" height="7.985" fill="#cc0e2a"/>
<rect x="302.20" y="1057.8" width="17.87" height="7.985" fill="#cc0e2a"/>
<rect x="320.07" y="1057.8" width="17.87" height="7.985" fill="#e9e5e3"/>
<rect x="337.94" y="1057.8" width="17.87" height="7.985" fill="#c6e1ee"/>
<rect x="355.81" y="1057.8" width="17.87" height="7.985" fill="#c6e1ee"/>
<rect x="373.69" y="1057.8" width="17.87" height="7.985" fill="#c6e1ee"/>
<rect x="391.56" y="1057.8" width="17.87" height="7.985" fill="#c6e1ee"/>
<rect x="409.43" y="1057.8" width="17.87" height="7.985" fill="#c6e1ee"/>
<rect x="52.00" y="1065.8" width="17.87" height="7.985" fill="#4ba7d6"/>
<rect x="69.87" y="1065.8" width="17.87" height="7.985" fill="#4ba7d6"/>
<rect x="87.74" y="1065.8" width="17.87" height="7.985" fill="#2290cb"/>
<rect x="105.61" y="1065.8" width="17.87" height="7.985" fill="#fac6ad"/>
<rect x="123.49" y="1065.8" width="17.87" height="7.985" fill="#fac6ad"/>
<rect x="141.36" y="1065.8" width="17.87" height="7.985" fill="#fac6ad"/>
<rect x="159.23" y="1065.8" width="17.87" height="7.985" fill="#d0e4ef"/>
<rect x="177.10" y="1065.8" width="17.87" height="7.985" fill="#d0e4ef"/>
<rect x="194.97" y="1065.8" width="17.87" height="7.985" fill="#d0e4ef"/>
<rect x="212.84" y="1065.8" width="17.87" height="7.985" fill="#a9d0e6"/>
<rect x="230.71" y="1065.8" width="17.87" height="7.985" fill="#a9d0e6"/>
<rect x="248.59" y="1065.8" width="17.87" height="7.985" fill="#a9d0e6"/>
<rect x="266.46" y="1065.8" width="17.87" height="7.985" fill="#cc0e2a"/>
<rect x="284.33" y="1065.8" width="17.87" height="7.985" fill="#cc0e2a"/>
<rect x="302.20" y="1065.8" width="17.87" height="7.985" fill="#cc0e2a"/>
<rect x="320.07" y="1065.8" width="17.87" height="7.985" fill="#e9e5e3"/>
<rect x="337.94" y="1065.8" width="17.87" height="7.985" fill="#c6e1ee"/>
<rect x="355.81" y="1065.8" width="17.87" height="7.985" fill="#c6e1ee"/>
<rect x="373.69" y="1065.8" width="17.87" height="7.985" fill="#c6e1ee"/>
<rect x="391.56" y="1065.8" width="17.87" height="7.985" fill="#c6e1ee"/>
<rect x="409.43" y="1065.8" width="17.87" height="7.985" fill="#c6e1ee"/>
<rect x="52.00" y="1073.8" width="17.87" height="7.985" fill="#a9d0e6"/>
<rect x="69.87" y="1073.8" width="17.87" height="7.985" fill="#b8d9ea"/>
<rect x="87.74" y="1073.8" width="17.87" height="7.985" fill="#a9d0e6"/>
<rect x="105.61" y="1073.8" width="17.87" height="7.985" fill="#f48e6e"/>
<rect x="123.49" y="1073.8" width="17.87" height="7.985" fill="#f27d62"/>
<rect x="141.36" y="1073.8" width="17.87" height="7.985" fill="#cc0e2a"/>
<rect x="159.23" y="1073.8" width="17.87" height="7.985" fill="#4ba7d6"/>
<rect x="177.10" y="1073.8" width="17.87" height="7.985" fill="#4ba7d6"/>
<rect x="194.97" y="1073.8" width="17.87" height="7.985" fill="#4ba7d6"/>
<rect x="212.84" y="1073.8" width="17.87" height="7.985" fill="#fbd3bf"/>
<rect x="230.71" y="1073.8" width="17.87" height="7.985" fill="#fbd3bf"/>
<rect x="248.59" y="1073.8" width="17.87" height="7.985" fill="#fbd3bf"/>
<rect x="266.46" y="1073.8" width="17.87" height="7.985" fill="#8cc3e1"/>
<rect x="284.33" y="1073.8" width="17.87" height="7.985" fill="#8cc3e1"/>
<rect x="302.20" y="1073.8" width="17.87" height="7.985" fill="#8cc3e1"/>
<rect x="320.07" y="1073.8" width="17.87" height="7.985" fill="#f7ab8c"/>
<rect x="337.94" y="1073.8" width="17.87" height="7.985" fill="#f7ab8c"/>
<rect x="355.81" y="1073.8" width="17.87" height="7.985" fill="#f7ab8c"/>
<rect x="373.69" y="1073.8" width="17.87" height="7.985" fill="#f7ded3"/>
<rect x="391.56" y="1073.8" width="17.87" height="7.985" fill="#8cc3e1"/>
<rect x="409.43" y="1073.8" width="17.87" height="7.985" fill="#8cc3e1"/>
<rect x="52.00" y="1081.8" width="17.87" height="7.985" fill="#a9d0e6"/>
<rect x="69.87" y="1081.8" width="17.87" height="7.985" fill="#a9d0e6"/>
<rect x="87.74" y="1081.8" width="17.87" height="7.985" fill="#a9d0e6"/>
<rect x="105.61" y="1081.8" width="17.87" height="7.985" fill="#f59c7c"/>
<rect x="123.49" y="1081.8" width="17.87" height="7.985" fill="#f59c7c"/>
<rect x="141.36" y="1081.8" width="17.87" height="7.985" fill="#f27d62"/>
<rect x="159.23" y="1081.8" width="17.87" height="7.985" fill="#1c72b5"/>
<rect x="177.10" y="1081.8" width="17.87" height="7.985" fill="#1c72b5"/>
<rect x="194.97" y="1081.8" width="17.87" height="7.985" fill="#1c72b5"/>
<rect x="212.84" y="1081.8" width="17.87" height="7.985" fill="#fbd3bf"/>
<rect x="230.71" y="1081.8" width="17.87" height="7.985" fill="#fbd3bf"/>
<rect x="248.59" y="1081.8" width="17.87" height="7.985" fill="#fbd3bf"/>
<rect x="266.46" y="1081.8" width="17.87" height="7.985" fill="#e9e5e3"/>
<rect x="284.33" y="1081.8" width="17.87" height="7.985" fill="#e9e5e3"/>
<rect x="302.20" y="1081.8" width="17.87" height="7.985" fill="#e9e5e3"/>
<rect x="320.07" y="1081.8" width="17.87" height="7.985" fill="#f7ab8c"/>
<rect x="337.94" y="1081.8" width="17.87" height="7.985" fill="#f7ab8c"/>
<rect x="355.81" y="1081.8" width="17.87" height="7.985" fill="#f7ab8c"/>
<rect x="373.69" y="1081.8" width="17.87" height="7.985" fill="#fac6ad"/>
<rect x="391.56" y="1081.8" width="17.87" height="7.985" fill="#fac6ad"/>
<rect x="409.43" y="1081.8" width="17.87" height="7.985" fill="#fac6ad"/>
<rect x="52.00" y="1089.7" width="17.87" height="7.985" fill="#fbd3bf"/>
<rect x="69.87" y="1089.7" width="17.87" height="7.985" fill="#fbd3bf"/>
<rect x="87.74" y="1089.7" width="17.87" height="7.985" fill="#fbd3bf"/>
<rect x="105.61" y="1089.7" width="17.87" height="7.985" fill="#a9d0e6"/>
<rect x="123.49" y="1089.7" width="17.87" height="7.985" fill="#a9d0e6"/>
<rect x="141.36" y="1089.7" width="17.87" height="7.985" fill="#a9d0e6"/>
<rect x="159.23" y="1089.7" width="17.87" height="7.985" fill="#4ba7d6"/>
<rect x="177.10" y="1089.7" width="17.87" height="7.985" fill="#4ba7d6"/>
<rect x="194.97" y="1089.7" width="17.87" height="7.985" fill="#4ba7d6"/>
<rect x="212.84" y="1089.7" width="17.87" height="7.985" fill="#2290cb"/>
<rect x="230.71" y="1089.7" width="17.87" height="7.985" fill="#2290cb"/>
<rect x="248.59" y="1089.7" width="17.87" height="7.985" fill="#2290cb"/>
<rect x="266.46" y="1089.7" width="17.87" height="7.985" fill="#f7ab8c"/>
<rect x="284.33" y="1089.7" width="17.87" height="7.985" fill="#f7ab8c"/>
<rect x="302.20" y="1089.7" width="17.87" height="7.985" fill="#f7ab8c"/>
<rect x="320.07" y="1089.7" width="17.87" height="7.985" fill="#f48e6e"/>
<rect x="337.94" y="1089.7" width="17.87" height="7.985" fill="#f48e6e"/>
<rect x="355.81" y="1089.7" width="17.87" height="7.985" fill="#f48e6e"/>
<rect x="373.69" y="1089.7" width="17.87" height="7.985" fill="#f48e6e"/>
<rect x="391.56" y="1089.7" width="17.87" height="7.985" fill="#f7ab8c"/>
<rect x="409.43" y="1089.7" width="17.87" height="7.985" fill="#f7ab8c"/>
<rect x="52.00" y="1097.7" width="17.87" height="7.985" fill="#4ba7d6"/>
<rect x="69.87" y="1097.7" width="17.87" height="7.985" fill="#4ba7d6"/>
<rect x="87.74" y="1097.7" width="17.87" height="7.985" fill="#2d96ce"/>
<rect x="105.61" y="1097.7" width="17.87" height="7.985" fill="#dc3a38"/>
<rect x="123.49" y="1097.7" width="17.87" height="7.985" fill="#e9e5e3"/>
<rect x="141.36" y="1097.7" width="17.87" height="7.985" fill="#e9e5e3"/>
<rect x="159.23" y="1097.7" width="17.87" height="7.985" fill="#a9d0e6"/>
<rect x="177.10" y="1097.7" width="17.87" height="7.985" fill="#a9d0e6"/>
<rect x="194.97" y="1097.7" width="17.87" height="7.985" fill="#a9d0e6"/>
<rect x="212.84" y="1097.7" width="17.87" height="7.985" fill="#a9d0e6"/>
<rect x="230.71" y="1097.7" width="17.87" height="7.985" fill="#a9d0e6"/>
<rect x="248.59" y="1097.7" width="17.87" height="7.985" fill="#a9d0e6"/>
<rect x="266.46" y="1097.7" width="17.87" height="7.985" fill="#f7ab8c"/>
<rect x="284.33" y="1097.7" width="17.87" height="7.985" fill="#f27d62"/>
<rect x="302.20" y="1097.7" width="17.87" height="7.985" fill="#e44b42"/>
<rect x="320.07" y="1097.7" width="17.87" height="7.985" fill="#a9d0e6"/>
<rect x="337.94" y="1097.7" width="17.87" height="7.985" fill="#f27d62"/>
<rect x="355.81" y="1097.7" width="17.87" height="7.985" fill="#f59c7c"/>
<rect x="373.69" y="1097.7" width="17.87" height="7.985" fill="#a9d0e6"/>
<rect x="391.56" y="1097.7" width="17.87" height="7.985" fill="#a9d0e6"/>
<rect x="409.43" y="1097.7" width="17.87" height="7.985" fill="#a9d0e6"/>
<rect x="52.00" y="1105.7" width="17.87" height="7.985" fill="#d0e4ef"/>
<rect x="69.87" y="1105.7" width="17.87" height="7.985" fill="#dde7ee"/>
<rect x="87.74" y="1105.7" width="17.87" height="7.985" fill="#c6e1ee"/>
<rect x="105.61" y="1105.7" width="17.87" height="7.985" fill="#f7ab8c"/>
<rect x="123.49" y="1105.7" width="17.87" height="7.985" fill="#f59c7c"/>
<rect x="141.36" y="1105.7" width="17.87" height="7.985" fill="#f48e6e"/>
<rect x="159.23" y="1105.7" width="17.87" height="7.985" fill="#2d96ce"/>
<rect x="177.10" y="1105.7" width="17.87" height="7.985" fill="#2d96ce"/>
<rect x="194.97" y="1105.7" width="17.87" height="7.985" fill="#2d96ce"/>
<rect x="212.84" y="1105.7" width="17.87" height="7.985" fill="#2290cb"/>
<rect x="230.71" y="1105.7" width="17.87" height="7.985" fill="#2290cb"/>
<rect x="248.59" y="1105.7" width="17.87" height="7.985" fill="#2290cb"/>
<rect x="266.46" y="1105.7" width="17.87" height="7.985" fill="#fbb898"/>
<rect x="284.33" y="1105.7" width="17.87" height="7.985" fill="#fbb898"/>
<rect x="302.20" y="1105.7" width="17.87" height="7.985" fill="#fbb898"/>
<rect x="320.07" y="1105.7" width="17.87" height="7.985" fill="#fbb898"/>
<rect x="337.94" y="1105.7" width="17.87" height="7.985" fill="#fbb898"/>
<rect x="355.81" y="1105.7" width="17.87" height="7.985" fill="#fbb898"/>
<rect x="373.69" y="1105.7" width="17.87" height="7.985" fill="#fac6ad"/>
<rect x="391.56" y="1105.7" width="17.87" height="7.985" fill="#fac6ad"/>
<rect x="409.43" y="1105.7" width="17.87" height="7.985" fill="#fac6ad"/>
<rect x="52.00" y="1113.7" width="17.87" height="7.985" fill="#c6e1ee"/>
<rect x="69.87" y="1113.7" width="17.87" height="7.985" fill="#c6e1ee"/>
<rect x="87.74" y="1113.7" width="17.87" height="7.985" fill="#c6e1ee"/>
<rect x="105.61" y="1113.7" width="17.87" height="7.985" fill="#f48e6e"/>
<rect x="123.49" y="1113.7" width="17.87" height="7.985" fill="#f48e6e"/>
<rect x="141.36" y="1113.7" width="17.87" height="7.985" fill="#f27d62"/>
<rect x="159.23" y="1113.7" width="17.87" height="7.985" fill="#5baed8"/>
<rect x="177.10" y="1113.7" width="17.87" height="7.985" fill="#5baed8"/>
<rect x="194.97" y="1113.7" width="17.87" height="7.985" fill="#5baed8"/>
<rect x="212.84" y="1113.7" width="17.87" height="7.985" fill="#5baed8"/>
<rect x="230.71" y="1113.7" width="17.87" height="7.985" fill="#5baed8"/>
<rect x="248.59" y="1113.7" width="17.87" height="7.985" fill="#5baed8"/>
<rect x="266.46" y="1113.7" width="17.87" height="7.985" fill="#f7ab8c"/>
<rect x="284.33" y="1113.7" width="17.87" height="7.985" fill="#f7ab8c"/>
<rect x="302.20" y="1113.7" width="17.87" height="7.985" fill="#f7ab8c"/>
<rect x="320.07" y="1113.7" width="17.87" height="7.985" fill="#f7ab8c"/>
<rect x="337.94" y="1113.7" width="17.87" height="7.985" fill="#f7ab8c"/>
<rect x="355.81" y="1113.7" width="17.87" height="7.985" fill="#f7ab8c"/>
<rect x="373.69" y="1113.7" width="17.87" height="7.985" fill="#6cb6db"/>
<rect x="391.56" y="1113.7" width="17.87" height="7.985" fill="#6cb6db"/>
<rect x="409.43" y="1113.7" width="17.87" height="7.985" fill="#6cb6db"/>
<rect x="52.00" y="1121.7" width="17.87" height="7.985" fill="#4ba7d6"/>
<rect x="69.87" y="1121.7" width="17.87" height="7.985" fill="#4ba7d6"/>
<rect x="87.74" y="1121.7" width="17.87" height="7.985" fill="#2290cb"/>
<rect x="105.61" y="1121.7" width="17.87" height="7.985" fill="#e9e5e3"/>
<rect x="123.49" y="1121.7" width="17.87" height="7.985" fill="#e9e5e3"/>
<rect x="141.36" y="1121.7" width="17.87" height="7.985" fill="#e9e5e3"/>
<rect x="159.23" y="1121.7" width="17.87" height="7.985" fill="#b8d9ea"/>
<rect x="177.10" y="1121.7" width="17.87" height="7.985" fill="#b8d9ea"/>
<rect x="194.97" y="1121.7" width="17.87" height="7.985" fill="#b8d9ea"/>
<rect x="212.84" y="1121.7" width="17.87" height="7.985" fill="#f27d62"/>
<rect x="230.71" y="1121.7" width="17.87" height="7.985" fill="#f27d62"/>
<rect x="248.59" y="1121.7" width="17.87" height="7.985" fill="#f27d62"/>
<rect x="266.46" y="1121.7" width="17.87" height="7.985" fill="#a9d0e6"/>
<rect x="284.33" y="1121.7" width="17.87" height="7.985" fill="#a9d0e6"/>
<rect x="302.20" y="1121.7" width="17.87" height="7.985" fill="#a9d0e6"/>
<rect x="320.07" y="1121.7" width="17.87" height="7.985" fill="#c6e1ee"/>
<rect x="337.94" y="1121.7" width="17.87" height="7.985" fill="#c6e1ee"/>
<rect x="355.81" y="1121.7" width="17.87" height="7.985" fill="#c6e1ee"/>
<rect x="373.69" y="1121.7" width="17.87" height="7.985" fill="#dc3a38"/>
<rect x="391.56" y="1121.7" width="17.87" height="7.985" fill="#ec624f"/>
<rect x="409.43" y="1121.7" width="17.87" height="7.985" fill="#ec624f"/>
<rect x="52.00" y="1129.7" width="17.87" height="7.985" fill="#5baed8"/>
<rect x="69.87" y="1129.7" width="17.87" height="7.985" fill="#5baed8"/>
<rect x="87.74" y="1129.7" width="17.87" height="7.985" fill="#3da0d3"/>
<rect x="105.61" y="1129.7" width="17.87" height="7.985" fill="#fbd3bf"/>
<rect x="123.49" y="1129.7" width="17.87" height="7.985" fill="#fbd3bf"/>
<rect x="141.36" y="1129.7" width="17.87" height="7.985" fill="#fbd3bf"/>
<rect x="159.23" y="1129.7" width="17.87" height="7.985" fill="#c6e1ee"/>
<rect x="177.10" y="1129.7" width="17.87" height="7.985" fill="#c6e1ee"/>
<rect x="194.97" y="1129.7" width="17.87" height="7.985" fill="#c6e1ee"/>
<rect x="212.84" y="1129.7" width="17.87" height="7.985" fill="#b8d9ea"/>
<rect x="230.71" y="1129.7" width="17.87" height="7.985" fill="#b8d9ea"/>
<rect x="248.59" y="1129.7" width="17.87" height="7.985" fill="#b8d9ea"/>
<rect x="266.46" y="1129.7" width="17.87" height="7.985" fill="#b8d9ea"/>
<rect x="284.33" y="1129.7" width="17.87" height="7.985" fill="#b8d9ea"/>
<rect x="302.20" y="1129.7" width="17.87" height="7.985" fill="#b8d9ea"/>
<rect x="320.07" y="1129.7" width="17.87" height="7.985" fill="#d0e4ef"/>
<rect x="337.94" y="1129.7" width="17.87" height="7.985" fill="#d0e4ef"/>
<rect x="355.81" y="1129.7" width="17.87" height="7.985" fill="#d0e4ef"/>
<rect x="373.69" y="1129.7" width="17.87" height="7.985" fill="#cc0e2a"/>
<rect x="391.56" y="1129.7" width="17.87" height="7.985" fill="#9e0a24"/>
<rect x="409.43" y="1129.7" width="17.87" height="7.985" fill="#dc3a38"/>
<rect x="52.00" y="1137.6" width="17.87" height="7.985" fill="#e44b42"/>
<rect x="69.87" y="1137.6" width="17.87" height="7.985" fill="#dc3a38"/>
<rect x="87.74" y="1137.6" width="17.87" height="7.985" fill="#ec624f"/>
<rect x="105.61" y="1137.6" width="17.87" height="7.985" fill="#d0e4ef"/>
<rect x="123.49" y="1137.6" width="17.87" height="7.985" fill="#d0e4ef"/>
<rect x="141.36" y="1137.6" width="17.87" height="7.985" fill="#d0e4ef"/>
<rect x="159.23" y="1137.6" width="17.87" height="7.985" fill="#a9d0e6"/>
<rect x="177.10" y="1137.6" width="17.87" height="7.985" fill="#a9d0e6"/>
<rect x="194.97" y="1137.6" width="17.87" height="7.985" fill="#a9d0e6"/>
<rect x="212.84" y="1137.6" width="17.87" height="7.985" fill="#8cc3e1"/>
<rect x="230.71" y="1137.6" width="17.87" height="7.985" fill="#8cc3e1"/>
<rect x="248.59" y="1137.6" width="17.87" height="7.985" fill="#8cc3e1"/>
<rect x="266.46" y="1137.6" width="17.87" height="7.985" fill="#8cc3e1"/>
<rect x="284.33" y="1137.6" width="17.87" height="7.985" fill="#8cc3e1"/>
<rect x="302.20" y="1137.6" width="17.87" height="7.985" fill="#8cc3e1"/>
<rect x="320.07" y="1137.6" width="17.87" height="7.985" fill="#a9d0e6"/>
<rect x="337.94" y="1137.6" width="17.87" height="7.985" fill="#a9d0e6"/>
<rect x="355.81" y="1137.6" width="17.87" height="7.985" fill="#a9d0e6"/>
<rect x="373.69" y="1137.6" width="17.87" height="7.985" fill="#ec624f"/>
<rect x="391.56" y="1137.6" width="17.87" height="7.985" fill="#f48e6e"/>
<rect x="409.43" y="1137.6" width="17.87" height="7.985" fill="#f48e6e"/>
<rect x="52.00" y="1145.6" width="17.87" height="7.985" fill="#e9e5e3"/>
<rect x="69.87" y="1145.6" width="17.87" height="7.985" fill="#e9e5e3"/>
<rect x="87.74" y="1145.6" width="17.87" height="7.985" fill="#e9e5e3"/>
<rect x="105.61" y="1145.6" width="17.87" height="7.985" fill="#f48e6e"/>
<rect x="123.49" y="1145.6" width="17.87" height="7.985" fill="#f48e6e"/>
<rect x="141.36" y="1145.6" width="17.87" height="7.985" fill="#ec624f"/>
<rect x="159.23" y="1145.6" width="17.87" height="7.985" fill="#5baed8"/>
<rect x="177.10" y="1145.6" width="17.87" height="7.985" fill="#5baed8"/>
<rect x="194.97" y="1145.6" width="17.87" height="7.985" fill="#5baed8"/>
<rect x="212.84" y="1145.6" width="17.87" height="7.985" fill="#4ba7d6"/>
<rect x="230.71" y="1145.6" width="17.87" height="7.985" fill="#4ba7d6"/>
<rect x="248.59" y="1145.6" width="17.87" height="7.985" fill="#4ba7d6"/>
<rect x="266.46" y="1145.6" width="17.87" height="7.985" fill="#4ba7d6"/>
<rect x="284.33" y="1145.6" width="17.87" height="7.985" fill="#4ba7d6"/>
<rect x="302.20" y="1145.6" width="17.87" height="7.985" fill="#4ba7d6"/>
<rect x="320.07" y="1145.6" width="17.87" height="7.985" fill="#f7ab8c"/>
<rect x="337.94" y="1145.6" width="17.87" height="7.985" fill="#f7ab8c"/>
<rect x="355.81" y="1145.6" width="17.87" height="7.985" fill="#f7ab8c"/>
<rect x="373.69" y="1145.6" width="17.87" height="7.985" fill="#f7ab8c"/>
<rect x="391.56" y="1145.6" width="17.87" height="7.985" fill="#f7ab8c"/>
<rect x="409.43" y="1145.6" width="17.87" height="7.985" fill="#f7ab8c"/>
<rect x="52.00" y="1153.6" width="17.87" height="7.985" fill="#f59c7c"/>
<rect x="69.87" y="1153.6" width="17.87" height="7.985" fill="#f59c7c"/>
<rect x="87.74" y="1153.6" width="17.87" height="7.985" fill="#f59c7c"/>
<rect x="105.61" y="1153.6" width="17.87" height="7.985" fill="#f59c7c"/>
<rect x="123.49" y="1153.6" width="17.87" height="7.985" fill="#f59c7c"/>
<rect x="141.36" y="1153.6" width="17.87" height="7.985" fill="#f27d62"/>
<rect x="159.23" y="1153.6" width="17.87" height="7.985" fill="#5baed8"/>
<rect x="177.10" y="1153.6" width="17.87" height="7.985" fill="#5baed8"/>
<rect x="194.97" y="1153.6" width="17.87" height="7.985" fill="#5baed8"/>
<rect x="212.84" y="1153.6" width="17.87" height="7.985" fill="#4ba7d6"/>
<rect x="230.71" y="1153.6" width="17.87" height="7.985" fill="#4ba7d6"/>
<rect x="248.59" y="1153.6" width="17.87" height="7.985" fill="#4ba7d6"/>
<rect x="266.46" y="1153.6" width="17.87" height="7.985" fill="#5baed8"/>
<rect x="284.33" y="1153.6" width="17.87" height="7.985" fill="#5baed8"/>
<rect x="302.20" y="1153.6" width="17.87" height="7.985" fill="#5baed8"/>
<rect x="320.07" y="1153.6" width="17.87" height="7.985" fill="#fbb898"/>
<rect x="337.94" y="1153.6" width="17.87" height="7.985" fill="#fbb898"/>
<rect x="355.81" y="1153.6" width="17.87" height="7.985" fill="#fbb898"/>
<rect x="373.69" y="1153.6" width="17.87" height="7.985" fill="#fbb898"/>
<rect x="391.56" y="1153.6" width="17.87" height="7.985" fill="#fbb898"/>
<rect x="409.43" y="1153.6" width="17.87" height="7.985" fill="#fbb898"/>
<path d="M52.0 682.5H427.3M52.0 690.5H427.3M52.0 698.5H427.3M52.0 706.5H427.3M52.0 714.4H427.3M52.0 722.4H427.3M52.0 730.4H427.3M52.0 738.4H427.3M52.0 746.4H427.3M52.0 754.4H427.3M52.0 762.4H427.3M52.0 770.3H427.3M52.0 778.3H427.3M52.0 786.3H427.3M52.0 794.3H427.3M52.0 802.3H427.3M52.0 810.3H427.3M52.0 818.2H427.3M52.0 826.2H427.3M52.0 834.2H427.3M52.0 842.2H427.3M52.0 850.2H427.3M52.0 858.2H427.3M52.0 866.2H427.3M52.0 874.1H427.3M52.0 882.1H427.3M52.0 890.1H427.3M52.0 898.1H427.3M52.0 906.1H427.3M52.0 914.1H427.3M52.0 922.0H427.3M52.0 930.0H427.3M52.0 938.0H427.3M52.0 946.0H427.3M52.0 954.0H427.3M52.0 962.0H427.3M52.0 970.0H427.3M52.0 977.9H427.3M52.0 985.9H427.3M52.0 993.9H427.3M52.0 1001.9H427.3M52.0 1009.9H427.3M52.0 1017.9H427.3M52.0 1025.9H427.3M52.0 1033.8H427.3M52.0 1041.8H427.3M52.0 1049.8H427.3M52.0 1057.8H427.3M52.0 1065.8H427.3M52.0 1073.8H427.3M52.0 1081.8H427.3M52.0 1089.7H427.3M52.0 1097.7H427.3M52.0 1105.7H427.3M52.0 1113.7H427.3M52.0 1121.7H427.3M52.0 1129.7H427.3M52.0 1137.6H427.3M52.0 1145.6H427.3M52.0 1153.6H427.3M52.0 1161.6H427.3M52.00 682.5V1161.6M69.87 682.5V1161.6M87.74 682.5V1161.6M105.61 682.5V1161.6M123.49 682.5V1161.6M141.36 682.5V1161.6M159.23 682.5V1161.6M177.10 682.5V1161.6M194.97 682.5V1161.6M212.84 682.5V1161.6M230.71 682.5V1161.6M248.59 682.5V1161.6M266.46 682.5V1161.6M284.33 682.5V1161.6M302.20 682.5V1161.6M320.07 682.5V1161.6M337.94 682.5V1161.6M355.81 682.5V1161.6M373.69 682.5V1161.6M391.56 682.5V1161.6M409.43 682.5V1161.6M427.30 682.5V1161.6" stroke="#a2a2a2" stroke-width="0.85" fill="none"/>
<rect x="52.00" y="673.6" width="17.87" height="6.4" fill="#a020c8"/>
<rect x="69.87" y="673.6" width="17.87" height="6.4" fill="#a020c8"/>
<rect x="87.74" y="673.6" width="17.87" height="6.4" fill="#a020c8"/>
<rect x="105.61" y="673.6" width="17.87" height="6.4" fill="#1bb04a"/>
<rect x="123.49" y="673.6" width="17.87" height="6.4" fill="#1bb04a"/>
<rect x="141.36" y="673.6" width="17.87" height="6.4" fill="#1bb04a"/>
<rect x="159.23" y="673.6" width="17.87" height="6.4" fill="#ff2ee8"/>
<rect x="177.10" y="673.6" width="17.87" height="6.4" fill="#ff2ee8"/>
<rect x="194.97" y="673.6" width="17.87" height="6.4" fill="#ff2ee8"/>
<rect x="212.84" y="673.6" width="17.87" height="6.4" fill="#ffd800"/>
<rect x="230.71" y="673.6" width="17.87" height="6.4" fill="#ffd800"/>
<rect x="248.59" y="673.6" width="17.87" height="6.4" fill="#ffd800"/>
<rect x="266.46" y="673.6" width="17.87" height="6.4" fill="#17d8f0"/>
<rect x="284.33" y="673.6" width="17.87" height="6.4" fill="#17d8f0"/>
<rect x="302.20" y="673.6" width="17.87" height="6.4" fill="#17d8f0"/>
<rect x="320.07" y="673.6" width="17.87" height="6.4" fill="#3a5fd9"/>
<rect x="337.94" y="673.6" width="17.87" height="6.4" fill="#3a5fd9"/>
<rect x="355.81" y="673.6" width="17.87" height="6.4" fill="#3a5fd9"/>
<rect x="373.69" y="673.6" width="17.87" height="6.4" fill="#ff1452"/>
<rect x="391.56" y="673.6" width="17.87" height="6.4" fill="#ff1452"/>
<rect x="409.43" y="673.6" width="17.87" height="6.4" fill="#ff1452"/>
<path d="M52.0 673.6H427.3M52.0 680.0H427.3M52.00 673.6V680.0M69.87 673.6V680.0M87.74 673.6V680.0M105.61 673.6V680.0M123.49 673.6V680.0M141.36 673.6V680.0M159.23 673.6V680.0M177.10 673.6V680.0M194.97 673.6V680.0M212.84 673.6V680.0M230.71 673.6V680.0M248.59 673.6V680.0M266.46 673.6V680.0M284.33 673.6V680.0M302.20 673.6V680.0M320.07 673.6V680.0M337.94 673.6V680.0M355.81 673.6V680.0M373.69 673.6V680.0M391.56 673.6V680.0M409.43 673.6V680.0M427.30 673.6V680.0" stroke="#a2a2a2" stroke-width="0.85" fill="none"/>
<text x="0" y="0" transform="translate(430.6 678.9) scale(0.82 1)" font-family="Liberation Sans, sans-serif" font-weight="bold" font-size="8.5" fill="#2a2a2a">class</text>
<text x="0" y="0" transform="translate(430.9 688.5) scale(0.94 1)" font-family="Liberation Sans, sans-serif" font-size="7.6" fill="#2a2a2a">Furaneol.1</text>
<text x="0" y="0" transform="translate(430.9 696.5) scale(0.94 1)" font-family="Liberation Sans, sans-serif" font-size="7.6" fill="#2a2a2a">1-Hexacosene</text>
<text x="0" y="0" transform="translate(430.9 704.5) scale(0.94 1)" font-family="Liberation Sans, sans-serif" font-size="7.6" fill="#2a2a2a">Cyclopent-4-ene-1,</text>
<text x="0" y="0" transform="translate(430.9 712.4) scale(0.94 1)" font-family="Liberation Sans, sans-serif" font-size="7.6" fill="#2a2a2a">1-Octadecene</text>
<text x="0" y="0" transform="translate(430.9 720.4) scale(0.94 1)" font-family="Liberation Sans, sans-serif" font-size="7.6" fill="#2a2a2a">Heptadecanoic acid</text>
<text x="0" y="0" transform="translate(430.9 728.4) scale(0.94 1)" font-family="Liberation Sans, sans-serif" font-size="7.6" fill="#2a2a2a">Dodecanoic acid.1</text>
<text x="0" y="0" transform="translate(430.9 736.4) scale(0.94 1)" font-family="Liberation Sans, sans-serif" font-size="7.6" fill="#2a2a2a">Pentacos-1-ene</text>
<text x="0" y="0" transform="translate(430.9 744.4) scale(0.94 1)" font-family="Liberation Sans, sans-serif" font-size="7.6" fill="#2a2a2a">Limonene</text>
<text x="0" y="0" transform="translate(430.9 752.4) scale(0.94 1)" font-family="Liberation Sans, sans-serif" font-size="7.6" fill="#2a2a2a">Furyl hydroxymethy</text>
<text x="0" y="0" transform="translate(430.9 760.4) scale(0.94 1)" font-family="Liberation Sans, sans-serif" font-size="7.6" fill="#2a2a2a">2,5-Furandione, di</text>
<text x="0" y="0" transform="translate(430.9 768.3) scale(0.94 1)" font-family="Liberation Sans, sans-serif" font-size="7.6" fill="#2a2a2a">1-Hexacosene.1</text>
<text x="0" y="0" transform="translate(430.9 776.3) scale(0.94 1)" font-family="Liberation Sans, sans-serif" font-size="7.6" fill="#2a2a2a">1-Tricosene</text>
<text x="0" y="0" transform="translate(430.9 784.3) scale(0.94 1)" font-family="Liberation Sans, sans-serif" font-size="7.6" fill="#2a2a2a">Tetradecanoic acid</text>
<text x="0" y="0" transform="translate(430.9 792.3) scale(0.94 1)" font-family="Liberation Sans, sans-serif" font-size="7.6" fill="#2a2a2a">1,2-Cyclopentanedi</text>
<text x="0" y="0" transform="translate(430.9 800.3) scale(0.94 1)" font-family="Liberation Sans, sans-serif" font-size="7.6" fill="#2a2a2a">Eicosanoic acid</text>
<text x="0" y="0" transform="translate(430.9 808.3) scale(0.94 1)" font-family="Liberation Sans, sans-serif" font-size="7.6" fill="#2a2a2a">Tetradecanoic acid</text>
<text x="0" y="0" transform="translate(430.9 816.3) scale(0.94 1)" font-family="Liberation Sans, sans-serif" font-size="7.6" fill="#2a2a2a">Cyclopentadecane</text>
<text x="0" y="0" transform="translate(430.9 824.2) scale(0.94 1)" font-family="Liberation Sans, sans-serif" font-size="7.6" fill="#2a2a2a">1-Nonadecene</text>
<text x="0" y="0" transform="translate(430.9 832.2) scale(0.94 1)" font-family="Liberation Sans, sans-serif" font-size="7.6" fill="#2a2a2a">9-Octadecenamide,</text>
<text x="0" y="0" transform="translate(430.9 840.2) scale(0.94 1)" font-family="Liberation Sans, sans-serif" font-size="7.6" fill="#2a2a2a">Orcinol</text>
<text x="0" y="0" transform="translate(430.9 848.2) scale(0.94 1)" font-family="Liberation Sans, sans-serif" font-size="7.6" fill="#2a2a2a">n-Hexadecanoic aci</text>
<text x="0" y="0" transform="translate(430.9 856.2) scale(0.94 1)" font-family="Liberation Sans, sans-serif" font-size="7.6" fill="#2a2a2a">Octadecanoic acid</text>
<text x="0" y="0" transform="translate(430.9 864.2) scale(0.94 1)" font-family="Liberation Sans, sans-serif" font-size="7.6" fill="#2a2a2a">2-Furanmethanol</text>
<text x="0" y="0" transform="translate(430.9 872.1) scale(0.94 1)" font-family="Liberation Sans, sans-serif" font-size="7.6" fill="#2a2a2a">Furan, 2,5-dimethy</text>
<text x="0" y="0" transform="translate(430.9 880.1) scale(0.94 1)" font-family="Liberation Sans, sans-serif" font-size="7.6" fill="#2a2a2a">2,3-Dihydro-3,5-di</text>
<text x="0" y="0" transform="translate(430.9 888.1) scale(0.94 1)" font-family="Liberation Sans, sans-serif" font-size="7.6" fill="#2a2a2a">2,5-Furandione, di</text>
<text x="0" y="0" transform="translate(430.9 896.1) scale(0.94 1)" font-family="Liberation Sans, sans-serif" font-size="7.6" fill="#2a2a2a">Oxacyclohexadecan-</text>
<text x="0" y="0" transform="translate(430.9 904.1) scale(0.94 1)" font-family="Liberation Sans, sans-serif" font-size="7.6" fill="#2a2a2a">1,3,4-Oxadiazole,</text>
<text x="0" y="0" transform="translate(430.9 912.1) scale(0.94 1)" font-family="Liberation Sans, sans-serif" font-size="7.6" fill="#2a2a2a">Furyl hydroxymethy</text>
<text x="0" y="0" transform="translate(430.9 920.1) scale(0.94 1)" font-family="Liberation Sans, sans-serif" font-size="7.6" fill="#2a2a2a">Behenic amide</text>
<text x="0" y="0" transform="translate(430.9 928.0) scale(0.94 1)" font-family="Liberation Sans, sans-serif" font-size="7.6" fill="#2a2a2a">Furaneol</text>
<text x="0" y="0" transform="translate(430.9 936.0) scale(0.94 1)" font-family="Liberation Sans, sans-serif" font-size="7.6" fill="#2a2a2a">1,3,5,7-Cyclooctat</text>
<text x="0" y="0" transform="translate(430.9 944.0) scale(0.94 1)" font-family="Liberation Sans, sans-serif" font-size="7.6" fill="#2a2a2a">Styrene</text>
<text x="0" y="0" transform="translate(430.9 952.0) scale(0.94 1)" font-family="Liberation Sans, sans-serif" font-size="7.6" fill="#2a2a2a">Glacial acetic aci</text>
<text x="0" y="0" transform="translate(430.9 960.0) scale(0.94 1)" font-family="Liberation Sans, sans-serif" font-size="7.6" fill="#2a2a2a">2(5H)-Furanone, 5-</text>
<text x="0" y="0" transform="translate(430.9 968.0) scale(0.94 1)" font-family="Liberation Sans, sans-serif" font-size="7.6" fill="#2a2a2a">2-Cyclopenten-1-on</text>
<text x="0" y="0" transform="translate(430.9 976.0) scale(0.94 1)" font-family="Liberation Sans, sans-serif" font-size="7.6" fill="#2a2a2a">Pyridine, 2-methyl</text>
<text x="0" y="0" transform="translate(430.9 983.9) scale(0.94 1)" font-family="Liberation Sans, sans-serif" font-size="7.6" fill="#2a2a2a">3-Ethyl-2-hydroxy-</text>
<text x="0" y="0" transform="translate(430.9 991.9) scale(0.94 1)" font-family="Liberation Sans, sans-serif" font-size="7.6" fill="#2a2a2a">2-Acetyl-5-methylf</text>
<text x="0" y="0" transform="translate(430.9 999.9) scale(0.94 1)" font-family="Liberation Sans, sans-serif" font-size="7.6" fill="#2a2a2a">2-Formyl-5-methylf</text>
<text x="0" y="0" transform="translate(430.9 1007.9) scale(0.94 1)" font-family="Liberation Sans, sans-serif" font-size="7.6" fill="#2a2a2a">5-Hydroxymethylfur</text>
<text x="0" y="0" transform="translate(430.9 1015.9) scale(0.94 1)" font-family="Liberation Sans, sans-serif" font-size="7.6" fill="#2a2a2a">Furfural</text>
<text x="0" y="0" transform="translate(430.9 1023.9) scale(0.94 1)" font-family="Liberation Sans, sans-serif" font-size="7.6" fill="#2a2a2a">2,3-dimethyl-2-cyc</text>
<text x="0" y="0" transform="translate(430.9 1031.8) scale(0.94 1)" font-family="Liberation Sans, sans-serif" font-size="7.6" fill="#2a2a2a">3-Methyl-2-cyclope</text>
<text x="0" y="0" transform="translate(430.9 1039.8) scale(0.94 1)" font-family="Liberation Sans, sans-serif" font-size="7.6" fill="#2a2a2a">Maltol</text>
<text x="0" y="0" transform="translate(430.9 1047.8) scale(0.94 1)" font-family="Liberation Sans, sans-serif" font-size="7.6" fill="#2a2a2a">Octadecanamide</text>
<text x="0" y="0" transform="translate(430.9 1055.8) scale(0.94 1)" font-family="Liberation Sans, sans-serif" font-size="7.6" fill="#2a2a2a">Pyridine</text>
<text x="0" y="0" transform="translate(430.9 1063.8) scale(0.94 1)" font-family="Liberation Sans, sans-serif" font-size="7.6" fill="#2a2a2a">1,2-Cyclopentanedi</text>
<text x="0" y="0" transform="translate(430.9 1071.8) scale(0.94 1)" font-family="Liberation Sans, sans-serif" font-size="7.6" fill="#2a2a2a">2-Butanone, 4-(5-m</text>
<text x="0" y="0" transform="translate(430.9 1079.8) scale(0.94 1)" font-family="Liberation Sans, sans-serif" font-size="7.6" fill="#2a2a2a">4H-Pyran-4-one,3,5</text>
<text x="0" y="0" transform="translate(430.9 1087.7) scale(0.94 1)" font-family="Liberation Sans, sans-serif" font-size="7.6" fill="#2a2a2a">2-Methyl-2-cyclope</text>
<text x="0" y="0" transform="translate(430.9 1095.7) scale(0.94 1)" font-family="Liberation Sans, sans-serif" font-size="7.6" fill="#2a2a2a">Furyl hydroxymethy</text>
<text x="0" y="0" transform="translate(430.9 1103.7) scale(0.94 1)" font-family="Liberation Sans, sans-serif" font-size="7.6" fill="#2a2a2a">2-Butanoyl-5-methy</text>
<text x="0" y="0" transform="translate(430.9 1111.7) scale(0.94 1)" font-family="Liberation Sans, sans-serif" font-size="7.6" fill="#2a2a2a">2,5-Furan dicarbal</text>
<text x="0" y="0" transform="translate(430.9 1119.7) scale(0.94 1)" font-family="Liberation Sans, sans-serif" font-size="7.6" fill="#2a2a2a">Hydroxyacetone</text>
<text x="0" y="0" transform="translate(430.9 1127.7) scale(0.94 1)" font-family="Liberation Sans, sans-serif" font-size="7.6" fill="#2a2a2a">1H-Inden-1-one, 2,</text>
<text x="0" y="0" transform="translate(430.9 1135.7) scale(0.94 1)" font-family="Liberation Sans, sans-serif" font-size="7.6" fill="#2a2a2a">2,5-Dimethylfuran-</text>
<text x="0" y="0" transform="translate(430.9 1143.6) scale(0.94 1)" font-family="Liberation Sans, sans-serif" font-size="7.6" fill="#2a2a2a">Dodecanoic acid</text>
<text x="0" y="0" transform="translate(430.9 1151.6) scale(0.94 1)" font-family="Liberation Sans, sans-serif" font-size="7.6" fill="#2a2a2a">3-Methyl-1,2-cyclo</text>
<text x="0" y="0" transform="translate(430.9 1159.6) scale(0.94 1)" font-family="Liberation Sans, sans-serif" font-size="7.6" fill="#2a2a2a">9,12-Octadecadieno</text>
<text x="0" y="0" transform="translate(58.0 1164.6) rotate(90)" font-family="Liberation Sans, sans-serif" font-size="7.8" fill="#2a2a50">6-3 [1]</text>
<text x="0" y="0" transform="translate(75.9 1164.6) rotate(90)" font-family="Liberation Sans, sans-serif" font-size="7.8" fill="#2a2a50">6-1 [1]</text>
<text x="0" y="0" transform="translate(93.8 1164.6) rotate(90)" font-family="Liberation Sans, sans-serif" font-size="7.8" fill="#2a2a50">6-2 [1]</text>
<text x="0" y="0" transform="translate(111.7 1164.6) rotate(90)" font-family="Liberation Sans, sans-serif" font-size="7.8" fill="#2a2a50">1-3[2]</text>
<text x="0" y="0" transform="translate(129.5 1164.6) rotate(90)" font-family="Liberation Sans, sans-serif" font-size="7.8" fill="#2a2a50">1-1 [1]</text>
<text x="0" y="0" transform="translate(147.4 1164.6) rotate(90)" font-family="Liberation Sans, sans-serif" font-size="7.8" fill="#2a2a50">1-2 [1]</text>
<text x="0" y="0" transform="translate(165.3 1164.6) rotate(90)" font-family="Liberation Sans, sans-serif" font-size="7.8" fill="#2a2a50">4-3 [1]</text>
<text x="0" y="0" transform="translate(183.1 1164.6) rotate(90)" font-family="Liberation Sans, sans-serif" font-size="7.8" fill="#2a2a50">4-1 [1]</text>
<text x="0" y="0" transform="translate(201.0 1164.6) rotate(90)" font-family="Liberation Sans, sans-serif" font-size="7.8" fill="#2a2a50">4-2 [1]</text>
<text x="0" y="0" transform="translate(218.9 1164.6) rotate(90)" font-family="Liberation Sans, sans-serif" font-size="7.8" fill="#2a2a50">5-3[1]</text>
<text x="0" y="0" transform="translate(236.8 1164.6) rotate(90)" font-family="Liberation Sans, sans-serif" font-size="7.8" fill="#2a2a50">5-1 [1]</text>
<text x="0" y="0" transform="translate(254.6 1164.6) rotate(90)" font-family="Liberation Sans, sans-serif" font-size="7.8" fill="#2a2a50">5-2[1]</text>
<text x="0" y="0" transform="translate(272.5 1164.6) rotate(90)" font-family="Liberation Sans, sans-serif" font-size="7.8" fill="#2a2a50">3-2 [1]</text>
<text x="0" y="0" transform="translate(290.4 1164.6) rotate(90)" font-family="Liberation Sans, sans-serif" font-size="7.8" fill="#2a2a50">3-1 [1]</text>
<text x="0" y="0" transform="translate(308.2 1164.6) rotate(90)" font-family="Liberation Sans, sans-serif" font-size="7.8" fill="#2a2a50">3-3 [1]</text>
<text x="0" y="0" transform="translate(326.1 1164.6) rotate(90)" font-family="Liberation Sans, sans-serif" font-size="7.8" fill="#2a2a50">2-3[1]</text>
<text x="0" y="0" transform="translate(344.0 1164.6) rotate(90)" font-family="Liberation Sans, sans-serif" font-size="7.8" fill="#2a2a50">2-1 [1]</text>
<text x="0" y="0" transform="translate(361.9 1164.6) rotate(90)" font-family="Liberation Sans, sans-serif" font-size="7.8" fill="#2a2a50">2-2 [1]</text>
<text x="0" y="0" transform="translate(379.7 1164.6) rotate(90)" font-family="Liberation Sans, sans-serif" font-size="7.8" fill="#2a2a50">0-2 [1]</text>
<text x="0" y="0" transform="translate(397.6 1164.6) rotate(90)" font-family="Liberation Sans, sans-serif" font-size="7.8" fill="#2a2a50">0-1 [1]</text>
<text x="0" y="0" transform="translate(415.5 1164.6) rotate(90)" font-family="Liberation Sans, sans-serif" font-size="7.8" fill="#2a2a50">0-3 [1]</text>
<path d="M78.8 672.6V670.2H96.7V672.6M60.9 672.6V669.2H87.7V670.2M132.4 672.6V670.2H150.3V672.6M114.6 672.6V669.2H141.4V670.2M186.0 672.6V670.2H203.9V672.6M168.2 672.6V669.2H195.0V670.2M239.7 672.6V670.2H257.5V672.6M221.8 672.6V669.2H248.6V670.2M293.3 672.6V670.2H311.1V672.6M275.4 672.6V669.2H302.2V670.2M346.9 672.6V670.2H364.8V672.6M329.0 672.6V669.2H355.8V670.2M400.5 672.6V670.2H418.4V672.6M382.6 672.6V669.2H409.4V670.2M181.6 669.2V653.5H235.2V669.2M342.4 669.2V657.8H396.0V669.2M288.8 669.2V648.5H369.2V657.8M208.4 653.5V647.9H329.0V648.5M128.0 669.2V643.2H268.7V647.9M74.3 669.2V625.8H198.3V643.2" stroke="#222" stroke-width="1" fill="none"/>
<path d="M50.7 686.5V838.2M50.7 686.5H51.5M50.7 694.5H51.5M50.7 702.5H51.5M50.7 710.4H51.5M50.7 718.4H51.5M50.7 726.4H51.5M50.7 734.4H51.5M50.7 742.4H51.5M50.7 750.4H51.5M50.7 758.4H51.5M50.7 766.3H51.5M50.7 774.3H51.5M50.7 782.3H51.5M50.7 790.3H51.5M50.7 798.3H51.5M50.7 806.3H51.5M50.7 814.3H51.5M50.7 822.2H51.5M50.7 830.2H51.5M50.7 838.2H51.5M49.3 846.2V878.1M49.3 846.2H51.5M49.3 854.2H51.5M49.3 862.2H51.5M49.3 870.1H51.5M49.3 878.1H51.5M50.8 886.1V918.1M50.8 886.1H51.5M50.8 894.1H51.5M50.8 902.1H51.5M50.8 910.1H51.5M50.8 918.1H51.5M48.6 926.0V974.0M48.6 926.0H51.5M48.6 934.0H51.5M48.6 942.0H51.5M48.6 950.0H51.5M48.6 958.0H51.5M48.6 966.0H51.5M48.6 974.0H51.5M49.0 981.9V1037.8M49.0 981.9H51.5M49.0 989.9H51.5M49.0 997.9H51.5M49.0 1005.9H51.5M49.0 1013.9H51.5M49.0 1021.9H51.5M49.0 1029.8H51.5M49.0 1037.8H51.5M50.0 1045.8V1069.8M50.0 1045.8H51.5M50.0 1053.8H51.5M50.0 1061.8H51.5M50.0 1069.8H51.5M47.5 1077.8V1157.6M47.5 1077.8H51.5M47.5 1085.7H51.5M47.5 1093.7H51.5M47.5 1101.7H51.5M47.5 1109.7H51.5M47.5 1117.7H51.5M47.5 1125.7H51.5M47.5 1133.7H51.5M47.5 1141.6H51.5M47.5 1149.6H51.5M47.5 1157.6H51.5M50.7 759.4H7.1V970.2H38M38 891V1049.4M38 891H43M43 859.5V923.2M43 859.5H49.3M43 923.2H45M45 903.8V942.7M45 903.8H50.8M45 942.7H48.6M38 1049.4H42.5M42.5 1015V1083.8M42.5 1015H49M42.5 1083.8H44.7M44.7 1052.3V1115.4M44.7 1052.3H50M44.7 1115.4H47.5" stroke="#222" stroke-width="1" fill="none"/>
<defs><linearGradient id="cb" x1="0" y1="0" x2="0" y2="1"><stop offset="0.000" stop-color="#660020"/><stop offset="0.031" stop-color="#80001f"/><stop offset="0.109" stop-color="#be0a26"/><stop offset="0.188" stop-color="#dc3030"/><stop offset="0.266" stop-color="#ee6446"/><stop offset="0.344" stop-color="#f6a07f"/><stop offset="0.422" stop-color="#f8d0c0"/><stop offset="0.500" stop-color="#e8e5e4"/><stop offset="0.578" stop-color="#c6dfec"/><stop offset="0.656" stop-color="#84c2e0"/><stop offset="0.734" stop-color="#3aa2d2"/><stop offset="0.812" stop-color="#1580c0"/><stop offset="0.891" stop-color="#0a60a2"/><stop offset="0.969" stop-color="#063a70"/><stop offset="1.000" stop-color="#053060"/></linearGradient></defs>
<rect x="503.0" y="672.6" width="10.0" height="133.39999999999998" fill="url(#cb)"/>
<text x="516" y="679.8" font-family="Liberation Sans, sans-serif" font-size="8.2" fill="#2a2a2a">3</text>
<text x="516" y="700.6" font-family="Liberation Sans, sans-serif" font-size="8.2" fill="#2a2a2a">2</text>
<text x="516" y="721.4" font-family="Liberation Sans, sans-serif" font-size="8.2" fill="#2a2a2a">1</text>
<text x="516" y="742.2" font-family="Liberation Sans, sans-serif" font-size="8.2" fill="#2a2a2a">0</text>
<text x="516" y="763.0" font-family="Liberation Sans, sans-serif" font-size="8.2" fill="#2a2a2a">-1</text>
<text x="516" y="783.8" font-family="Liberation Sans, sans-serif" font-size="8.2" fill="#2a2a2a">-2</text>
<text x="516" y="804.6" font-family="Liberation Sans, sans-serif" font-size="8.2" fill="#2a2a2a">-3</text>
<text x="526" y="679.5" font-family="Liberation Sans, sans-serif" font-weight="bold" font-size="8.5" fill="#222">class</text>
<rect x="526.4" y="682.0" width="10.6" height="10.3" fill="#ff1452" stroke="#aaa" stroke-width="0.5"/>
<text x="539" y="690.0" font-family="Liberation Sans, sans-serif" font-size="8" fill="#333">0</text>
<rect x="526.4" y="692.3" width="10.6" height="10.3" fill="#1bb04a" stroke="#aaa" stroke-width="0.5"/>
<text x="539" y="700.3" font-family="Liberation Sans, sans-serif" font-size="8" fill="#333">1</text>
<rect x="526.4" y="702.6" width="10.6" height="10.3" fill="#3a5fd9" stroke="#aaa" stroke-width="0.5"/>
<text x="539" y="710.6" font-family="Liberation Sans, sans-serif" font-size="8" fill="#333">2</text>
<rect x="526.4" y="712.9" width="10.6" height="10.3" fill="#17d8f0" stroke="#aaa" stroke-width="0.5"/>
<text x="539" y="720.9" font-family="Liberation Sans, sans-serif" font-size="8" fill="#333">3</text>
<rect x="526.4" y="723.2" width="10.6" height="10.3" fill="#ff2ee8" stroke="#aaa" stroke-width="0.5"/>
<text x="539" y="731.2" font-family="Liberation Sans, sans-serif" font-size="8" fill="#333">4</text>
<rect x="526.4" y="733.5" width="10.6" height="10.3" fill="#ffd800" stroke="#aaa" stroke-width="0.5"/>
<text x="539" y="741.5" font-family="Liberation Sans, sans-serif" font-size="8" fill="#333">5</text>
<rect x="526.4" y="743.8" width="10.6" height="10.3" fill="#a020c8" stroke="#aaa" stroke-width="0.5"/>
<text x="539" y="751.8" font-family="Liberation Sans, sans-serif" font-size="8" fill="#333">6</text>
</svg></body></html>
